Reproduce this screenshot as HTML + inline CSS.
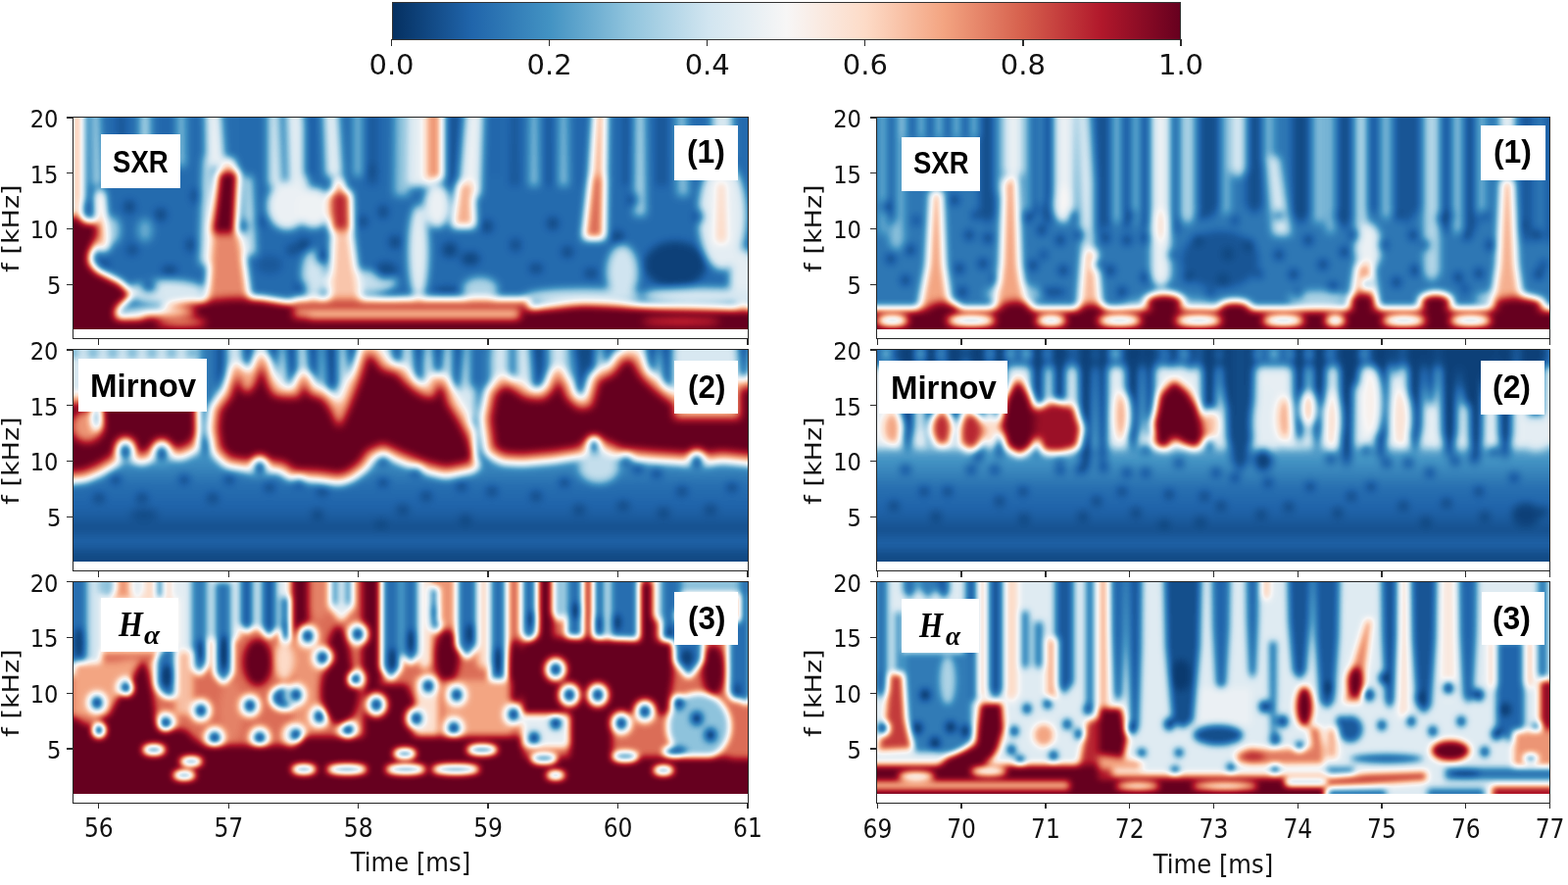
<!DOCTYPE html><html><head><meta charset="utf-8"><style>
html,body{margin:0;padding:0;background:#fff;}
body{width:1600px;height:903px;position:relative;overflow:hidden;font-family:"DejaVu Sans","Liberation Sans",sans-serif;color:#111;}
.fld{position:absolute;display:block;}
.ax{position:absolute;border:1.6px solid #262626;box-sizing:border-box;}
.tk{position:absolute;background:#2b2b2b;}
.yl{position:absolute;font-size:25.2px;line-height:1;text-align:right;width:60px;font-stretch:condensed;}
.xl{position:absolute;font-size:26px;line-height:1;text-align:center;width:60px;font-stretch:condensed;}
.cl{position:absolute;font-size:29px;line-height:1;text-align:center;width:80px;}
.lab{position:absolute;font-size:26px;line-height:1;font-stretch:condensed;white-space:nowrap;}
.box{position:absolute;background:#fff;}
.bt{position:absolute;font-family:"Liberation Sans",sans-serif;font-weight:bold;line-height:1;white-space:nowrap;color:#000;}
</style></head><body>
<div style="position:absolute;left:399.5px;top:1.5px;width:805.5px;height:39.5px;background:linear-gradient(to right,#053061 0%,#2065ab 10%,#4393c3 20%,#90c4dd 30%,#d1e5f0 40%,#f7f6f6 50%,#fddbc7 60%,#f3a481 70%,#d6604d 80%,#b1182b 90%,#67001f 100%);box-sizing:border-box;border:1.3px solid #333;"></div>
<div class="tk" style="left:398.8px;top:40px;width:1.4px;height:7px"></div>
<div class="cl" style="left:359.5px;top:51.7px">0.0</div>
<div class="tk" style="left:559.9px;top:40px;width:1.4px;height:7px"></div>
<div class="cl" style="left:520.6px;top:51.7px">0.2</div>
<div class="tk" style="left:721.0px;top:40px;width:1.4px;height:7px"></div>
<div class="cl" style="left:681.7px;top:51.7px">0.4</div>
<div class="tk" style="left:882.1px;top:40px;width:1.4px;height:7px"></div>
<div class="cl" style="left:842.8px;top:51.7px">0.6</div>
<div class="tk" style="left:1043.2px;top:40px;width:1.4px;height:7px"></div>
<div class="cl" style="left:1003.9px;top:51.7px">0.8</div>
<div class="tk" style="left:1204.3px;top:40px;width:1.4px;height:7px"></div>
<div class="cl" style="left:1165.0px;top:51.7px">1.0</div>
<svg class="fld" style="left:75px;top:120.0px" width="688" height="216.25" viewBox="0 0 688 216.25">
<defs><filter id="fL1" filterUnits="userSpaceOnUse" x="-40" y="-40" width="768" height="296.25" color-interpolation-filters="sRGB"><feGaussianBlur stdDeviation="4.5"/><feComponentTransfer><feFuncR type="table" tableValues="0.0196 0.1255 0.2627 0.5647 0.8196 0.9686 0.9922 0.9529 0.8392 0.6941 0.4039"/><feFuncG type="table" tableValues="0.1882 0.3961 0.5765 0.7686 0.8980 0.9647 0.8588 0.6431 0.3765 0.0941 0.0000"/><feFuncB type="table" tableValues="0.3804 0.6706 0.7647 0.8667 0.9412 0.9647 0.7804 0.5059 0.3020 0.1686 0.1216"/></feComponentTransfer></filter>
</defs>
<g filter="url(#fL1)"><rect x="-40" y="-40" width="768" height="296.25" fill="#1d1d1d"/>
<polygon points="-2.0,-20 8.0,-20 8.0,100 -2.0,100" fill="#b8b8b8" />
<polygon points="7.0,-20 11.0,-20 11.0,95 7.0,95" fill="#808080" />
<polygon points="18.0,-20 26.0,-20 29.0,70 19.0,70" fill="#595959" />
<polygon points="68.0,-20 78.0,-20 79.0,60 67.0,60" fill="#595959" />
<polygon points="45.0,-20 51.0,-20 54.0,50 46.0,50" fill="#0f0f0f" />
<polygon points="106.5,-20 113.5,-20 114.0,50 106.0,50" fill="#525252" />
<polygon points="90.0,-20 100.0,-20 100.0,60 90.0,60" fill="#1a1a1a" />
<polygon points="135.0,-20 149.0,-20 154.0,50 136.0,50" fill="#787878" />
<polygon points="156.0,-20 166.0,-20 166.0,40 156.0,40" fill="#1f1f1f" />
<polygon points="199.0,-20 209.0,-20 213.0,70 199.0,70" fill="#6b6b6b" />
<polygon points="217.0,-20 233.0,-20 240.0,80 220.0,80" fill="#737373" />
<polygon points="255.0,-20 269.0,-20 274.0,60 258.0,60" fill="#737373" />
<polygon points="235.0,-20 245.0,-20 245.0,60 235.0,60" fill="#141414" />
<polygon points="286.0,-20 294.0,-20 294.0,60 286.0,60" fill="#4c4c4c" />
<polygon points="299.0,-20 311.0,-20 311.0,70 299.0,70" fill="#141414" />
<polygon points="328.0,-20 342.0,-20 343.0,80 327.0,80" fill="#4c4c4c" />
<polygon points="342.0,-20 372.0,-20 367.0,70 341.0,70" fill="#737373" />
<polygon points="380.0,-20 396.0,-20 396.0,70 380.0,70" fill="#121212" />
<polygon points="402.0,-20 418.0,-20 415.0,80 393.0,80" fill="#787878" />
<polygon points="425.0,-20 435.0,-20 435.0,60 425.0,60" fill="#1a1a1a" />
<polygon points="466.0,-20 474.0,-20 475.0,70 465.0,70" fill="#4c4c4c" />
<polygon points="496.0,-20 504.0,-20 505.0,70 495.0,70" fill="#4c4c4c" />
<polygon points="446.0,-20 454.0,-20 455.0,70 445.0,70" fill="#121212" />
<polygon points="481.0,-20 489.0,-20 490.0,70 480.0,70" fill="#141414" />
<polygon points="514.0,-20 524.0,-20 525.0,70 513.0,70" fill="#1a1a1a" />
<polygon points="573.0,-20 583.0,-20 584.0,100 572.0,100" fill="#595959" />
<polygon points="560.0,-20 570.0,-20 570.0,70 560.0,70" fill="#121212" />
<polygon points="594.0,-20 606.0,-20 606.0,70 594.0,70" fill="#121212" />
<polygon points="615.0,-20 625.0,-20 628.0,80 616.0,80" fill="#4c4c4c" />
<polygon points="652.0,-20 672.0,-20 672.0,40 652.0,40" fill="#6b6b6b" />
<ellipse cx="40" cy="115" rx="8" ry="14" fill="#525252" />
<ellipse cx="73" cy="115" rx="8" ry="12" fill="#404040" />
<ellipse cx="218" cy="90" rx="20" ry="24" fill="#787878" />
<ellipse cx="245" cy="92" rx="18" ry="20" fill="#7a7a7a" />
<ellipse cx="352" cy="137" rx="10" ry="48" fill="#737373" />
<polygon points="174.0,60 182.0,60 186.0,140 174.0,140" fill="#666666" />
<polygon points="133.0,40 141.0,40 141.0,150 129.0,150" fill="#6b6b6b" />
<ellipse cx="560" cy="158" rx="16" ry="28" fill="#666666" />
<ellipse cx="662" cy="100" rx="24" ry="55" fill="#737373" />
<ellipse cx="684" cy="165" rx="14" ry="30" fill="#737373" />
<ellipse cx="640" cy="182" rx="60" ry="8" fill="#6b6b6b" />
<ellipse cx="520" cy="183" rx="60" ry="8" fill="#666666" />
<ellipse cx="95" cy="178" rx="40" ry="12" fill="#6b6b6b" />
<ellipse cx="290" cy="168" rx="40" ry="12" fill="#616161" />
<ellipse cx="245" cy="160" rx="12" ry="25" fill="#666666" />
<ellipse cx="415" cy="175" rx="18" ry="12" fill="#595959" />
<ellipse cx="13" cy="91" rx="4" ry="7" fill="#080808" />
<ellipse cx="57" cy="91" rx="6" ry="7" fill="#0a0a0a" />
<ellipse cx="89" cy="99" rx="6" ry="7" fill="#0a0a0a" />
<ellipse cx="125" cy="80" rx="5" ry="8" fill="#0d0d0d" />
<ellipse cx="120" cy="130" rx="6" ry="7" fill="#0d0d0d" />
<ellipse cx="60" cy="135" rx="6" ry="6" fill="#0d0d0d" />
<ellipse cx="31" cy="150" rx="6" ry="5" fill="#0d0d0d" />
<ellipse cx="98" cy="156" rx="8" ry="5" fill="#0a0a0a" />
<ellipse cx="77" cy="173" rx="8" ry="5" fill="#0d0d0d" />
<ellipse cx="173" cy="111" rx="5" ry="7" fill="#0f0f0f" />
<ellipse cx="192" cy="106" rx="5" ry="6" fill="#0f0f0f" />
<ellipse cx="223" cy="135" rx="6" ry="6" fill="#0d0d0d" />
<ellipse cx="200" cy="150" rx="14" ry="10" fill="#141414" />
<ellipse cx="235" cy="130" rx="7" ry="7" fill="#0a0a0a" />
<ellipse cx="254" cy="142" rx="7" ry="7" fill="#0a0a0a" />
<ellipse cx="232" cy="173" rx="6" ry="5" fill="#0d0d0d" />
<ellipse cx="295" cy="106" rx="5" ry="6" fill="#0a0a0a" />
<ellipse cx="316" cy="96" rx="5" ry="7" fill="#0a0a0a" />
<ellipse cx="328" cy="127" rx="6" ry="7" fill="#0a0a0a" />
<ellipse cx="319" cy="156" rx="12" ry="9" fill="#0d0d0d" />
<ellipse cx="321" cy="183" rx="12" ry="4" fill="#0d0d0d" />
<ellipse cx="304" cy="55" rx="5" ry="8" fill="#0d0d0d" />
<ellipse cx="384" cy="135" rx="8" ry="8" fill="#0a0a0a" />
<ellipse cx="405" cy="144" rx="10" ry="7" fill="#0a0a0a" />
<ellipse cx="381" cy="177" rx="14" ry="4" fill="#0a0a0a" />
<ellipse cx="422" cy="111" rx="6" ry="7" fill="#0a0a0a" />
<ellipse cx="451" cy="130" rx="6" ry="7" fill="#0d0d0d" />
<ellipse cx="489" cy="108" rx="6" ry="7" fill="#0a0a0a" />
<ellipse cx="504" cy="137" rx="6" ry="6" fill="#0a0a0a" />
<ellipse cx="472" cy="154" rx="7" ry="5" fill="#0a0a0a" />
<ellipse cx="528" cy="159" rx="7" ry="5" fill="#0a0a0a" />
<ellipse cx="571" cy="84" rx="5" ry="7" fill="#0a0a0a" />
<ellipse cx="638" cy="101" rx="5" ry="7" fill="#0d0d0d" />
<ellipse cx="555" cy="122" rx="7" ry="7" fill="#0a0a0a" />
<ellipse cx="614" cy="150" rx="32" ry="24" fill="#080808" />
<polygon points="23.0,75 31.0,75 36.0,135 24.0,135" fill="#a8a8a8" />
<polygon points="155.0,42 163.0,42 168.0,58 148.0,58" fill="#9e9e9e" />
<polygon points="147.0,55 169.0,55 166.0,118 140.0,118" fill="#ffffff" />
<polygon points="141.0,118 171.0,118 181.0,192 135.0,192" fill="#bdbdbd" />
<polygon points="266.0,62 274.0,62 279.0,80 265.0,80" fill="#b2b2b2" />
<polygon points="261.0,76 283.0,76 284.0,115 262.0,115" fill="#e0e0e0" />
<polygon points="264.0,115 284.0,115 294.0,192 260.0,192" fill="#a3a3a3" />
<polygon points="359.0,-20 377.0,-20 377.0,64 359.0,64" fill="#b8b8b8" />
<ellipse cx="371" cy="90" rx="13" ry="22" fill="#787878" />
<polygon points="392.0,66 408.0,66 410.0,112 386.0,112" fill="#adadad" />
<polygon points="532.0,-20 544.0,-20 543.0,60 527.0,60" fill="#adadad" />
<polygon points="527.0,60 543.0,60 542.0,124 520.0,124" fill="#c7c7c7" />
<polygon points="657.0,66 665.0,66 667.0,128 655.0,128" fill="#9e9e9e" />
<polygon points="-20,100 6,100 12,106 24,106 25,120 21,132 17,140 17,148 24,156 36,162 48,168 56,176 58,184 50,190 44,196 44,205 -20,230" fill="#ffffff" />
<polygon points="66,206 82,197 96,191 130,187 160,184 190,184 215,188 240,190 240,220 66,220" fill="#ffffff" />
<rect x="225" y="185" width="240" height="13" fill="#d6d6d6" />
<rect x="225" y="198" width="240" height="5" fill="#949494" />
<polygon points="455,196 480,193 520,190 560,191 600,193 700,195 700,230 455,230" fill="#ffffff" />
<rect x="-20" y="204" width="740" height="30" fill="#ffffff" />
<ellipse cx="85" cy="198" rx="40" ry="4" fill="#737373" />
<ellipse cx="110" cy="209" rx="25" ry="2.5" fill="#8c8c8c" />
<ellipse cx="620" cy="208" rx="40" ry="2" fill="#b2b2b2" />
</g></svg>
<div class="ax" style="left:74.3px;top:119.3px;width:689.4px;height:227.0px"></div>
<div class="tk" style="left:68.0px;top:119.3px;width:7px;height:1.4px"></div>
<div class="yl" style="left:-0.5px;top:108.7px">20</div>
<div class="tk" style="left:68.0px;top:176.1px;width:7px;height:1.4px"></div>
<div class="yl" style="left:-0.5px;top:165.5px">15</div>
<div class="tk" style="left:68.0px;top:232.9px;width:7px;height:1.4px"></div>
<div class="yl" style="left:-0.5px;top:222.3px">10</div>
<div class="tk" style="left:68.0px;top:289.7px;width:7px;height:1.4px"></div>
<div class="yl" style="left:2.5px;top:279.1px">5</div>
<div class="tk" style="left:100.1px;top:345.6px;width:1.4px;height:6px"></div>
<div class="tk" style="left:232.6px;top:345.6px;width:1.4px;height:6px"></div>
<div class="tk" style="left:365.0px;top:345.6px;width:1.4px;height:6px"></div>
<div class="tk" style="left:497.4px;top:345.6px;width:1.4px;height:6px"></div>
<div class="tk" style="left:629.9px;top:345.6px;width:1.4px;height:6px"></div>
<div class="tk" style="left:762.3px;top:345.6px;width:1.4px;height:6px"></div>
<div class="lab" style="left:-48.3px;top:217.8px;width:120px;height:30px;text-align:center;transform:rotate(-90deg) scaleY(0.86);font-stretch:normal;font-size:27px">f [kHz]</div>
<svg class="fld" style="left:75px;top:357.0px" width="688" height="216.25" viewBox="0 0 688 216.25">
<defs><filter id="fL2" filterUnits="userSpaceOnUse" x="-40" y="-40" width="768" height="296.25" color-interpolation-filters="sRGB"><feGaussianBlur stdDeviation="4.5"/><feComponentTransfer><feFuncR type="table" tableValues="0.0196 0.1255 0.2627 0.5647 0.8196 0.9686 0.9922 0.9529 0.8392 0.6941 0.4039"/><feFuncG type="table" tableValues="0.1882 0.3961 0.5765 0.7686 0.8980 0.9647 0.8588 0.6431 0.3765 0.0941 0.0000"/><feFuncB type="table" tableValues="0.3804 0.6706 0.7647 0.8667 0.9412 0.9647 0.7804 0.5059 0.3020 0.1686 0.1216"/></feComponentTransfer></filter>
<linearGradient id="g0" x1="0" y1="0" x2="0" y2="1"><stop offset="0" stop-color="#3d3d3d"/><stop offset="0.15" stop-color="#2e2e2e"/><stop offset="0.3" stop-color="#1f1f1f"/><stop offset="0.5" stop-color="#171717"/><stop offset="0.6" stop-color="#0f0f0f"/><stop offset="0.7" stop-color="#1a1a1a"/><stop offset="0.78" stop-color="#0d0d0d"/><stop offset="1" stop-color="#0a0a0a"/></linearGradient>
</defs>
<g filter="url(#fL2)"><rect x="-40" y="-40" width="768" height="296.25" fill="#212121"/>
<rect x="-20" y="-20" width="740" height="90" fill="#6b6b6b" />
<rect x="-20" y="95" width="740" height="145" fill="url(#g0)"/>
<polygon points="138,-20 145,-20 145,40.8 141.5,45 138,40.8" fill="#6b6b6b" />
<polygon points="160,-20 167,-20 167,40.8 163.5,45 160,40.8" fill="#6b6b6b" />
<polygon points="186,-20 193,-20 193,40.8 189.5,45 186,40.8" fill="#6b6b6b" />
<polygon points="212,-20 219,-20 219,40.8 215.5,45 212,40.8" fill="#6b6b6b" />
<polygon points="150,-20 157,-20 157,40.8 153.5,45 150,40.8" fill="#121212" />
<polygon points="176,-20 183,-20 183,40.8 179.5,45 176,40.8" fill="#121212" />
<polygon points="200,-20 207,-20 207,40.8 203.5,45 200,40.8" fill="#121212" />
<polygon points="222,-20 229,-20 229,40.8 225.5,45 222,40.8" fill="#121212" />
<polygon points="236,-20 243,-20 243,35.8 239.5,40 236,35.8" fill="#666666" />
<polygon points="252,-20 259,-20 259,35.8 255.5,40 252,35.8" fill="#666666" />
<polygon points="286,-20 293,-20 293,35.8 289.5,40 286,35.8" fill="#666666" />
<polygon points="318,-20 325,-20 325,35.8 321.5,40 318,35.8" fill="#666666" />
<polygon points="338,-20 345,-20 345,35.8 341.5,40 338,35.8" fill="#666666" />
<polygon points="360,-20 367,-20 367,35.8 363.5,40 360,35.8" fill="#666666" />
<polygon points="376,-20 383,-20 383,35.8 379.5,40 376,35.8" fill="#666666" />
<polygon points="394,-20 401,-20 401,35.8 397.5,40 394,35.8" fill="#666666" />
<polygon points="412,-20 419,-20 419,35.8 415.5,40 412,35.8" fill="#666666" />
<polygon points="244,-20 251,-20 251,35.8 247.5,40 244,35.8" fill="#141414" />
<polygon points="264,-20 271,-20 271,35.8 267.5,40 264,35.8" fill="#141414" />
<polygon points="328,-20 335,-20 335,35.8 331.5,40 328,35.8" fill="#141414" />
<polygon points="350,-20 357,-20 357,35.8 353.5,40 350,35.8" fill="#141414" />
<polygon points="368,-20 375,-20 375,35.8 371.5,40 368,35.8" fill="#141414" />
<polygon points="386,-20 393,-20 393,35.8 389.5,40 386,35.8" fill="#141414" />
<polygon points="404,-20 411,-20 411,35.8 407.5,40 404,35.8" fill="#141414" />
<polygon points="420,-20 427,-20 427,35.8 423.5,40 420,35.8" fill="#141414" />
<polygon points="426,-20 436,-20 436,44.0 431.0,50 426,44.0" fill="#666666" />
<polygon points="444,-20 452,-20 452,35.2 448.0,40 444,35.2" fill="#1a1a1a" />
<polygon points="458,-20 468,-20 468,39.0 463.0,45 458,39.0" fill="#6b6b6b" />
<polygon points="472,-20 486,-20 486,51.6 479.0,60 472,51.6" fill="#1a1a1a" />
<polygon points="490,-20 498,-20 498,35.2 494.0,40 490,35.2" fill="#666666" />
<polygon points="504,-20 528,-20 528,55.6 516.0,70 504,55.6" fill="#1f1f1f" />
<polygon points="508,-20 516,-20 516,45.2 512.0,50 508,45.2" fill="#6b6b6b" />
<polygon points="540,-20 548,-20 548,25.2 544.0,30 540,25.2" fill="#666666" />
<polygon points="552,-20 560,-20 560,25.2 556.0,30 552,25.2" fill="#141414" />
<polygon points="590,-20 600,-20 600,39.0 595.0,45 590,39.0" fill="#6b6b6b" />
<polygon points="603,-20 611,-20 611,45.2 607.0,50 603,45.2" fill="#1a1a1a" />
<polygon points="680,-20 688,-20 688,30.2 684.0,35 680,30.2" fill="#666666" />
<ellipse cx="0" cy="3" rx="4" ry="4" fill="#141414" />
<ellipse cx="10" cy="3" rx="4" ry="4" fill="#666666" />
<ellipse cx="20" cy="3" rx="4" ry="4" fill="#141414" />
<ellipse cx="30" cy="3" rx="4" ry="4" fill="#666666" />
<ellipse cx="40" cy="3" rx="4" ry="4" fill="#141414" />
<ellipse cx="50" cy="3" rx="4" ry="4" fill="#666666" />
<ellipse cx="60" cy="3" rx="4" ry="4" fill="#141414" />
<ellipse cx="70" cy="3" rx="4" ry="4" fill="#666666" />
<ellipse cx="80" cy="3" rx="4" ry="4" fill="#141414" />
<ellipse cx="90" cy="3" rx="4" ry="4" fill="#666666" />
<ellipse cx="100" cy="3" rx="4" ry="4" fill="#141414" />
<ellipse cx="110" cy="3" rx="4" ry="4" fill="#666666" />
<ellipse cx="120" cy="3" rx="4" ry="4" fill="#141414" />
<ellipse cx="130" cy="3" rx="4" ry="4" fill="#666666" />
<polygon points="142,-20 158,-20 153,40 150,50 147,40" fill="#0d0d0d" />
<polygon points="170,-20 186,-20 181,35 178,45 175,35" fill="#0d0d0d" />
<polygon points="196,-20 212,-20 207,38 204,48 201,38" fill="#0d0d0d" />
<polygon points="214,-20 230,-20 225,40 222,50 219,40" fill="#0d0d0d" />
<polygon points="236,-20 252,-20 247,35 244,45 241,35" fill="#0d0d0d" />
<polygon points="254,-20 270,-20 265,70 262,80 259,70" fill="#0d0d0d" />
<polygon points="276,-20 292,-20 287,30 284,40 281,30" fill="#0d0d0d" />
<polygon points="322,-20 338,-20 333,20 330,30 327,20" fill="#0d0d0d" />
<polygon points="344,-20 360,-20 355,35 352,45 349,35" fill="#0d0d0d" />
<polygon points="364,-20 380,-20 375,30 372,40 369,30" fill="#0d0d0d" />
<polygon points="384,-20 400,-20 395,35 392,45 389,35" fill="#0d0d0d" />
<polygon points="412,-20 428,-20 423,50 420,60 417,50" fill="#0d0d0d" />
<polygon points="464,-20 480,-20 475,45 472,55 469,45" fill="#0d0d0d" />
<polygon points="508,-20 524,-20 519,52 516,62 513,52" fill="#0d0d0d" />
<polygon points="520,-20 536,-20 531,50 528,60 525,50" fill="#0d0d0d" />
<polygon points="537,-20 553,-20 548,15 545,25 542,15" fill="#0d0d0d" />
<polygon points="582,-20 598,-20 593,30 590,40 587,30" fill="#0d0d0d" />
<polygon points="597,-20 613,-20 608,40 605,50 602,40" fill="#0d0d0d" />
<polygon points="676,-20 692,-20 687,30 684,40 681,30" fill="#0d0d0d" />
<polygon points="-10,55 125,55 126,85 120,95 108,101 98,99 90,93 82,99 70,106 60,103 53,93 46,98 40,108 24,118 10,124 -10,126" fill="#b8b8b8" stroke="#b0b0b0" stroke-width="20" stroke-linejoin="round"/>
<polygon points="-10,55 125,55 126,85 120,95 108,101 98,99 90,93 82,99 70,106 60,103 53,93 46,98 40,108 24,118 10,124 -10,126" fill="#ffffff" />
<ellipse cx="14" cy="78" rx="16" ry="16" fill="#b8b8b8" />
<ellipse cx="24" cy="68" rx="4" ry="14" fill="#1a1a1a" />
<ellipse cx="53" cy="102" rx="10" ry="12" fill="#737373" />
<ellipse cx="90" cy="104" rx="10" ry="12" fill="#737373" />
<ellipse cx="53" cy="104" rx="6" ry="8" fill="#000000" />
<ellipse cx="90" cy="106" rx="6" ry="8" fill="#000000" />
<polygon points="128,-20 146,-20 146,99.2 137.0,110 128,99.2" fill="#242424" />
<ellipse cx="137" cy="96" rx="6" ry="8" fill="#050505" />
<polygon points="149,62 160,48 168,24 172,40 178,44 185,35 192,14 198,35 204,46 215,48 230,48 235,32 240,45 255,50 262,60 271,79 280,60 292,30 300,5 304,5 315,20 330,24 340,35 350,43 360,48 368,48 372,34 378,40 382,55 393,72 403,91 408,108 404,115 380,120 360,115 335,105 316,96 300,103 292,115 280,124 271,127 250,124 225,123 215,115 200,113 190,118 180,113 160,110 150,100 147,80" fill="#b8b8b8" stroke="#b0b0b0" stroke-width="20" stroke-linejoin="round"/>
<polygon points="149,62 160,48 168,24 172,40 178,44 185,35 192,14 198,35 204,46 215,48 230,48 235,32 240,45 255,50 262,60 271,79 280,60 292,30 300,5 304,5 315,20 330,24 340,35 350,43 360,48 368,48 372,34 378,40 382,55 393,72 403,91 408,108 404,115 380,120 360,115 335,105 316,96 300,103 292,115 280,124 271,127 250,124 225,123 215,115 200,113 190,118 180,113 160,110 150,100 147,80" fill="#ffffff" />
<ellipse cx="190" cy="118" rx="9" ry="10" fill="#737373" />
<ellipse cx="190" cy="120" rx="6" ry="7" fill="#000000" />
<polygon points="410,-20 426,-20 426,110.4 418.0,120 410,110.4" fill="#212121" />
<ellipse cx="427" cy="103" rx="6" ry="7" fill="#050505" />
<polygon points="429,100 425,70 430,45 440,36 452,42 460,48 470,50 480,50 490,40 494,28 498,36 504,50 516,60 528,58 532,45 536,31 550,25 562,10 570,10 578,25 583,31 595,42 605,50 613,55 613,70 680,70 680,40 700,36 700,108 662,104 648,106 636,110 624,106 593,104 560,101 540,92 531,88 524,92 515,100 490,104 458,107 440,106" fill="#b8b8b8" stroke="#b0b0b0" stroke-width="20" stroke-linejoin="round"/>
<polygon points="429,100 425,70 430,45 440,36 452,42 460,48 470,50 480,50 490,40 494,28 498,36 504,50 516,60 528,58 532,45 536,31 550,25 562,10 570,10 578,25 583,31 595,42 605,50 613,55 613,70 680,70 680,40 700,36 700,108 662,104 648,106 636,110 624,106 593,104 560,101 540,92 531,88 524,92 515,100 490,104 458,107 440,106" fill="#ffffff" />
<ellipse cx="536" cy="120" rx="20" ry="16" fill="#616161" />
<ellipse cx="531" cy="97" rx="5" ry="8" fill="#000000" />
<ellipse cx="636" cy="112" rx="9" ry="10" fill="#737373" />
<ellipse cx="636" cy="114" rx="6" ry="7" fill="#000000" />
<ellipse cx="43" cy="132" rx="6" ry="5" fill="#0a0a0a" />
<ellipse cx="113" cy="132" rx="6" ry="5" fill="#0a0a0a" />
<ellipse cx="159" cy="132" rx="6" ry="5" fill="#0a0a0a" />
<ellipse cx="26" cy="151" rx="6" ry="5" fill="#0a0a0a" />
<ellipse cx="70" cy="151" rx="6" ry="5" fill="#0a0a0a" />
<ellipse cx="142" cy="151" rx="6" ry="5" fill="#0a0a0a" />
<ellipse cx="316" cy="112" rx="6" ry="5" fill="#0a0a0a" />
<ellipse cx="350" cy="124" rx="6" ry="5" fill="#0a0a0a" />
<ellipse cx="230" cy="135" rx="6" ry="5" fill="#0a0a0a" />
<ellipse cx="254" cy="144" rx="6" ry="5" fill="#0a0a0a" />
<ellipse cx="316" cy="135" rx="6" ry="5" fill="#0a0a0a" />
<ellipse cx="360" cy="149" rx="6" ry="5" fill="#0a0a0a" />
<ellipse cx="396" cy="139" rx="6" ry="5" fill="#0a0a0a" />
<ellipse cx="427" cy="144" rx="6" ry="5" fill="#0a0a0a" />
<ellipse cx="336" cy="163" rx="6" ry="5" fill="#0a0a0a" />
<ellipse cx="249" cy="168" rx="6" ry="5" fill="#0a0a0a" />
<ellipse cx="400" cy="173" rx="6" ry="5" fill="#0a0a0a" />
<ellipse cx="314" cy="178" rx="6" ry="5" fill="#0a0a0a" />
<ellipse cx="564" cy="112" rx="6" ry="5" fill="#0a0a0a" />
<ellipse cx="576" cy="121" rx="6" ry="5" fill="#0a0a0a" />
<ellipse cx="595" cy="126" rx="6" ry="5" fill="#0a0a0a" />
<ellipse cx="621" cy="144" rx="6" ry="5" fill="#0a0a0a" />
<ellipse cx="501" cy="135" rx="6" ry="5" fill="#0a0a0a" />
<ellipse cx="472" cy="149" rx="6" ry="5" fill="#0a0a0a" />
<ellipse cx="561" cy="159" rx="6" ry="5" fill="#0a0a0a" />
<ellipse cx="516" cy="163" rx="6" ry="5" fill="#0a0a0a" />
<ellipse cx="602" cy="166" rx="6" ry="5" fill="#0a0a0a" />
<ellipse cx="650" cy="163" rx="6" ry="5" fill="#0a0a0a" />
<ellipse cx="200" cy="140" rx="6" ry="5" fill="#0a0a0a" />
<ellipse cx="672" cy="140" rx="6" ry="5" fill="#0a0a0a" />
<ellipse cx="72" cy="168" rx="14" ry="6" fill="#0d0d0d" />
</g></svg>
<div class="ax" style="left:74.3px;top:356.3px;width:689.4px;height:227.0px"></div>
<div class="tk" style="left:68.0px;top:356.3px;width:7px;height:1.4px"></div>
<div class="yl" style="left:-0.5px;top:345.7px">20</div>
<div class="tk" style="left:68.0px;top:413.1px;width:7px;height:1.4px"></div>
<div class="yl" style="left:-0.5px;top:402.5px">15</div>
<div class="tk" style="left:68.0px;top:469.9px;width:7px;height:1.4px"></div>
<div class="yl" style="left:-0.5px;top:459.3px">10</div>
<div class="tk" style="left:68.0px;top:526.7px;width:7px;height:1.4px"></div>
<div class="yl" style="left:2.5px;top:516.1px">5</div>
<div class="tk" style="left:100.1px;top:582.6px;width:1.4px;height:6px"></div>
<div class="tk" style="left:232.6px;top:582.6px;width:1.4px;height:6px"></div>
<div class="tk" style="left:365.0px;top:582.6px;width:1.4px;height:6px"></div>
<div class="tk" style="left:497.4px;top:582.6px;width:1.4px;height:6px"></div>
<div class="tk" style="left:629.9px;top:582.6px;width:1.4px;height:6px"></div>
<div class="tk" style="left:762.3px;top:582.6px;width:1.4px;height:6px"></div>
<div class="lab" style="left:-48.3px;top:454.8px;width:120px;height:30px;text-align:center;transform:rotate(-90deg) scaleY(0.86);font-stretch:normal;font-size:27px">f [kHz]</div>
<svg class="fld" style="left:75px;top:593.75px" width="688" height="216.25" viewBox="0 0 688 216.25">
<defs><filter id="fL3" filterUnits="userSpaceOnUse" x="-40" y="-40" width="768" height="296.25" color-interpolation-filters="sRGB"><feGaussianBlur stdDeviation="3.8"/><feComponentTransfer><feFuncR type="table" tableValues="0.0196 0.1255 0.2627 0.5647 0.8196 0.9686 0.9922 0.9529 0.8392 0.6941 0.4039"/><feFuncG type="table" tableValues="0.1882 0.3961 0.5765 0.7686 0.8980 0.9647 0.8588 0.6431 0.3765 0.0941 0.0000"/><feFuncB type="table" tableValues="0.3804 0.6706 0.7647 0.8667 0.9412 0.9647 0.7804 0.5059 0.3020 0.1686 0.1216"/></feComponentTransfer></filter>
</defs>
<g filter="url(#fL3)"><rect x="-40" y="-40" width="768" height="296.25" fill="#c7c7c7"/>
<rect x="100" y="-20" width="125" height="65" fill="#737373" />
<rect x="-10" y="-20" width="38" height="115" fill="#666666" />
<polygon points="-10,-20 14,-20 14,77.6 2.0,92 -10,77.6" fill="#1f1f1f" />
<ellipse cx="6" cy="62" rx="6" ry="16" fill="#080808" />
<polygon points="26,-20 43,-20 43,9.8 34.5,20 26,9.8" fill="#4c4c4c" />
<polygon points="43,-20 58,-20 58,31.0 50.5,40 43,31.0" fill="#b8b8b8" />
<polygon points="58,-20 72,-20 72,11.6 65.0,20 58,11.6" fill="#737373" />
<polygon points="72,-20 82,-20 82,14.0 77.0,20 72,14.0" fill="#999999" />
<polygon points="84,-20 91,-20 91,15.8 87.5,20 84,15.8" fill="#1a1a1a" />
<polygon points="91,-20 100,-20 100,14.600000000000001 95.5,20 91,14.600000000000001" fill="#999999" />
<rect x="28" y="16" width="79" height="55" fill="#8c8c8c" />
<rect x="107" y="-20" width="15" height="90" fill="#737373" />
<polygon points="120,-20 137,-20 137,84.8 128.5,95 120,84.8" fill="#262626" />
<ellipse cx="130" cy="70" rx="5" ry="12" fill="#080808" />
<polygon points="137,-20 144,-20 144,55.8 140.5,60 137,55.8" fill="#737373" />
<polygon points="144,0 162,0 162,93.2 153.0,104 144,93.2" fill="#212121" />
<ellipse cx="154" cy="72" rx="6" ry="18" fill="#050505" />
<polygon points="161,-20 170,-20 170,54.6 165.5,60 161,54.6" fill="#737373" />
<polygon points="170,-20 184,-20 184,43.6 177.0,52 170,43.6" fill="#141414" />
<polygon points="183,-20 192,-20 192,44.6 187.5,50 183,44.6" fill="#6b6b6b" />
<polygon points="192,-20 207,-20 207,48.0 199.5,57 192,48.0" fill="#141414" />
<polygon points="207,-20 212,-20 212,47.0 209.5,50 207,47.0" fill="#737373" />
<polygon points="212,15 221,15 221,58.6 216.5,64 212,58.6" fill="#141414" />
<ellipse cx="216" cy="48" rx="4" ry="8" fill="#050505" />
<polygon points="221,-20 232,-20 232,53.4 226.5,60 221,53.4" fill="#f2f2f2" />
<ellipse cx="98" cy="92" rx="16" ry="26" fill="#1f1f1f" />
<ellipse cx="96" cy="96" rx="7" ry="12" fill="#050505" />
<ellipse cx="60" cy="90" rx="20" ry="12" fill="#b8b8b8" />
<rect x="0" y="82" width="84" height="54" fill="#b2b2b2" />
<rect x="104" y="70" width="18" height="65" fill="#a6a6a6" />
<ellipse cx="188" cy="82" rx="15" ry="24" fill="#ffffff" />
<ellipse cx="161" cy="132" rx="12" ry="32" fill="#bfbfbf" />
<ellipse cx="216" cy="118" rx="15" ry="12" fill="#141414" />
<ellipse cx="215" cy="80" rx="10" ry="20" fill="#999999" />
<ellipse cx="24" cy="123" rx="11" ry="12" fill="#808080" />
<ellipse cx="54" cy="108" rx="11" ry="12" fill="#808080" />
<ellipse cx="26" cy="151" rx="11" ry="12" fill="#808080" />
<ellipse cx="94" cy="144" rx="11" ry="12" fill="#808080" />
<ellipse cx="130" cy="131" rx="11" ry="12" fill="#808080" />
<ellipse cx="144" cy="159" rx="11" ry="12" fill="#808080" />
<ellipse cx="180" cy="126" rx="11" ry="12" fill="#808080" />
<ellipse cx="190" cy="159" rx="11" ry="12" fill="#808080" />
<ellipse cx="224" cy="156" rx="11" ry="12" fill="#808080" />
<polygon points="-10,137 0,137 14,146 36,135 41,125 48,113 58,101 65,87 72,79 77,91 82,115 84,135 87,149 106,149 115,151 125,161 135,166 240,166 240,240 -10,240" fill="#ffffff" />
<ellipse cx="24" cy="123" rx="6" ry="7" fill="#000000" />
<ellipse cx="54" cy="108" rx="6" ry="7" fill="#000000" />
<ellipse cx="26" cy="151" rx="6" ry="7" fill="#000000" />
<ellipse cx="94" cy="144" rx="6" ry="7" fill="#000000" />
<ellipse cx="130" cy="131" rx="6" ry="7" fill="#000000" />
<ellipse cx="144" cy="159" rx="6" ry="7" fill="#000000" />
<ellipse cx="180" cy="126" rx="6" ry="7" fill="#000000" />
<ellipse cx="190" cy="159" rx="6" ry="7" fill="#000000" />
<ellipse cx="224" cy="156" rx="6" ry="7" fill="#000000" />
<ellipse cx="82" cy="171" rx="11" ry="4.5" fill="#1f1f1f" />
<ellipse cx="120" cy="183" rx="11" ry="4.0" fill="#1f1f1f" />
<ellipse cx="113" cy="197" rx="11" ry="4.0" fill="#1f1f1f" />
<polygon points="225,-20 240,-20 240,51.0 232.5,60 225,51.0" fill="#ffffff" />
<polygon points="240,-20 261,-20 261,27.4 250.5,40 240,27.4" fill="#bfbfbf" />
<polygon points="261,-20 286,-20 286,25.0 273.5,40 261,25.0" fill="#737373" />
<polygon points="264,-20 269,-20 269,22.0 266.5,25 264,22.0" fill="#141414" />
<polygon points="278,-20 283,-20 283,22.0 280.5,25 278,22.0" fill="#141414" />
<ellipse cx="270" cy="95" rx="14" ry="50" fill="#ffffff" />
<polygon points="294,-20 315,-20 315,99.4 304.5,112 294,99.4" fill="#ffffff" />
<polygon points="314,-20 334,-20 334,88.0 324.0,100 314,88.0" fill="#1f1f1f" />
<ellipse cx="326" cy="79" rx="5" ry="12" fill="#050505" />
<polygon points="335,-20 353,-20 353,73.2 344.0,84 335,73.2" fill="#1f1f1f" />
<ellipse cx="345" cy="60" rx="5" ry="12" fill="#050505" />
<polygon points="352,-20 365,-20 365,82.2 358.5,90 352,82.2" fill="#8c8c8c" />
<polygon points="364,5 375,5 375,45.4 369.5,52 364,45.4" fill="#1f1f1f" />
<ellipse cx="368" cy="31" rx="4" ry="8" fill="#080808" />
<polygon points="372,-20 390,-20 390,39.2 381.0,50 372,39.2" fill="#b8b8b8" />
<ellipse cx="381" cy="76" rx="13" ry="28" fill="#ffffff" />
<polygon points="391,-20 412,-20 412,65.4 401.5,78 391,65.4" fill="#1f1f1f" />
<ellipse cx="405" cy="53" rx="5" ry="11" fill="#050505" />
<polygon points="412,-20 425,-20 425,82.2 418.5,90 412,82.2" fill="#999999" />
<polygon points="425,-20 442,-20 442,113.8 433.5,124 425,113.8" fill="#1f1f1f" />
<ellipse cx="433" cy="80" rx="5" ry="14" fill="#050505" />
<ellipse cx="451" cy="92" rx="9" ry="34" fill="#ffffff" />
<polygon points="296,104 340,104 350,125 345,168 296,168" fill="#ffffff" />
<rect x="225" y="60" width="25" height="92" fill="#b8b8b8" />
<rect x="350" y="98" width="22" height="58" fill="#949494" />
<rect x="378" y="100" width="68" height="60" fill="#b2b2b2" />
<ellipse cx="239" cy="55" rx="11" ry="12" fill="#808080" />
<ellipse cx="254" cy="77" rx="11" ry="12" fill="#808080" />
<ellipse cx="290" cy="53" rx="11" ry="12" fill="#808080" />
<ellipse cx="287" cy="99" rx="11" ry="12" fill="#808080" />
<ellipse cx="309" cy="125" rx="11" ry="12" fill="#808080" />
<ellipse cx="227" cy="115" rx="11" ry="12" fill="#808080" />
<ellipse cx="251" cy="137" rx="11" ry="12" fill="#808080" />
<ellipse cx="227" cy="156" rx="11" ry="12" fill="#808080" />
<ellipse cx="280" cy="151" rx="11" ry="12" fill="#808080" />
<ellipse cx="362" cy="106" rx="11" ry="12" fill="#808080" />
<ellipse cx="350" cy="139" rx="11" ry="12" fill="#808080" />
<ellipse cx="391" cy="115" rx="11" ry="12" fill="#808080" />
<ellipse cx="388" cy="149" rx="11" ry="12" fill="#808080" />
<ellipse cx="449" cy="135" rx="11" ry="12" fill="#808080" />
<ellipse cx="272" cy="112" rx="20" ry="34" fill="#ffffff" />
<rect x="225" y="157" width="235" height="83" fill="#ffffff" />
<ellipse cx="239" cy="55" rx="6" ry="7" fill="#000000" />
<ellipse cx="254" cy="77" rx="6" ry="7" fill="#000000" />
<ellipse cx="290" cy="53" rx="6" ry="7" fill="#000000" />
<ellipse cx="287" cy="99" rx="6" ry="7" fill="#000000" />
<ellipse cx="309" cy="125" rx="6" ry="7" fill="#000000" />
<ellipse cx="227" cy="115" rx="6" ry="7" fill="#000000" />
<ellipse cx="251" cy="137" rx="6" ry="7" fill="#000000" />
<ellipse cx="227" cy="156" rx="6" ry="7" fill="#000000" />
<ellipse cx="280" cy="151" rx="6" ry="7" fill="#000000" />
<ellipse cx="362" cy="106" rx="6" ry="7" fill="#000000" />
<ellipse cx="350" cy="139" rx="6" ry="7" fill="#000000" />
<ellipse cx="391" cy="115" rx="6" ry="7" fill="#000000" />
<ellipse cx="388" cy="149" rx="6" ry="7" fill="#000000" />
<ellipse cx="449" cy="135" rx="6" ry="7" fill="#000000" />
<ellipse cx="338" cy="175" rx="11" ry="4.5" fill="#1f1f1f" />
<ellipse cx="417" cy="171" rx="15" ry="4.5" fill="#1f1f1f" />
<ellipse cx="235" cy="191" rx="12" ry="4.0" fill="#1f1f1f" />
<ellipse cx="279" cy="191" rx="20" ry="4.0" fill="#1f1f1f" />
<ellipse cx="339" cy="191" rx="20" ry="4.0" fill="#1f1f1f" />
<ellipse cx="390" cy="191" rx="24" ry="4.0" fill="#1f1f1f" />
<polygon points="457,-20 473,-20 473,52.4 465.0,62 457,52.4" fill="#1f1f1f" />
<ellipse cx="468" cy="38" rx="5" ry="9" fill="#050505" />
<polygon points="474,-20 490,-20 490,60.4 482.0,70 474,60.4" fill="#ffffff" />
<polygon points="489,-20 502,-20 502,32.2 495.5,40 489,32.2" fill="#4c4c4c" />
<polygon points="503,-20 521,-20 521,55.2 512.0,66 503,55.2" fill="#1f1f1f" />
<ellipse cx="513" cy="29" rx="5" ry="9" fill="#050505" />
<polygon points="520,-20 531,-20 531,63.4 525.5,70 520,63.4" fill="#ebebeb" />
<polygon points="530,-20 546,-20 546,68.4 538.0,78 530,68.4" fill="#1f1f1f" />
<ellipse cx="535" cy="43" rx="5" ry="9" fill="#050505" />
<polygon points="542,-20 549,-20 549,55.8 545.5,60 542,55.8" fill="#737373" />
<polygon points="548,-20 577,-20 577,74.6 562.5,92 548,74.6" fill="#1f1f1f" />
<ellipse cx="554" cy="41" rx="5" ry="9" fill="#050505" />
<ellipse cx="569" cy="67" rx="5" ry="9" fill="#050505" />
<polygon points="577,0 594,0 594,59.8 585.5,70 577,59.8" fill="#ffffff" />
<polygon points="592,-20 600,-20 600,35.2 596.0,40 592,35.2" fill="#666666" />
<polygon points="600,-20 615,-20 615,65.0 607.5,74 600,65.0" fill="#1f1f1f" />
<ellipse cx="607" cy="53" rx="4" ry="8" fill="#050505" />
<polygon points="613,40 642,40 642,80.6 627.5,98 613,80.6" fill="#1f1f1f" />
<ellipse cx="626" cy="77" rx="6" ry="9" fill="#050505" />
<ellipse cx="653" cy="90" rx="12" ry="26" fill="#ffffff" />
<polygon points="668,40 692,40 692,113.6 680.0,128 668,113.6" fill="#1f1f1f" />
<ellipse cx="679" cy="111" rx="5" ry="8" fill="#050505" />
<polygon points="458,62 475,55 612,60 612,98 606,135 458,135" fill="#ffffff" />
<rect x="458" y="135" width="48" height="33" fill="#737373" />
<ellipse cx="638" cy="147" rx="32" ry="34" fill="#4c4c4c" />
<rect x="506" y="125" width="44" height="115" fill="#ffffff" />
<rect x="458" y="178" width="242" height="62" fill="#ffffff" />
<rect x="670" y="120" width="30" height="60" fill="#c7c7c7" />
<ellipse cx="492" cy="89" rx="11" ry="12" fill="#808080" />
<ellipse cx="506" cy="115" rx="11" ry="12" fill="#808080" />
<ellipse cx="535" cy="115" rx="11" ry="12" fill="#808080" />
<ellipse cx="583" cy="132" rx="11" ry="12" fill="#808080" />
<ellipse cx="559" cy="144" rx="11" ry="12" fill="#808080" />
<ellipse cx="492" cy="89" rx="6" ry="7" fill="#000000" />
<ellipse cx="506" cy="115" rx="6" ry="7" fill="#000000" />
<ellipse cx="535" cy="115" rx="6" ry="7" fill="#000000" />
<ellipse cx="583" cy="132" rx="6" ry="7" fill="#000000" />
<ellipse cx="559" cy="144" rx="6" ry="7" fill="#000000" />
<ellipse cx="470" cy="159" rx="6" ry="7" fill="#000000" />
<ellipse cx="492" cy="144" rx="6" ry="7" fill="#000000" />
<ellipse cx="617" cy="123" rx="6" ry="7" fill="#000000" />
<ellipse cx="636" cy="139" rx="6" ry="7" fill="#000000" />
<ellipse cx="650" cy="156" rx="6" ry="7" fill="#000000" />
<ellipse cx="614" cy="173" rx="12" ry="5" fill="#080808" />
<ellipse cx="480" cy="180" rx="13" ry="4.5" fill="#1f1f1f" />
<ellipse cx="563" cy="178" rx="13" ry="4.5" fill="#1f1f1f" />
<ellipse cx="602" cy="192" rx="10" ry="4.0" fill="#1f1f1f" />
<ellipse cx="492" cy="197" rx="9" ry="3.5" fill="#1f1f1f" />
<rect x="612" y="-20" width="88" height="32" fill="#4c4c4c" />
<polygon points="680,-20 692,-20 692,117.8 686.0,125 680,117.8" fill="#1f1f1f" />
<polygon points="612,-20 620,-20 620,25.2 616.0,30 612,25.2" fill="#1f1f1f" />
</g></svg>
<div class="ax" style="left:74.3px;top:593.0px;width:689.4px;height:227.0px"></div>
<div class="tk" style="left:68.0px;top:593.0px;width:7px;height:1.4px"></div>
<div class="yl" style="left:-0.5px;top:582.5px">20</div>
<div class="tk" style="left:68.0px;top:649.8px;width:7px;height:1.4px"></div>
<div class="yl" style="left:-0.5px;top:639.2px">15</div>
<div class="tk" style="left:68.0px;top:706.6px;width:7px;height:1.4px"></div>
<div class="yl" style="left:-0.5px;top:696.1px">10</div>
<div class="tk" style="left:68.0px;top:763.4px;width:7px;height:1.4px"></div>
<div class="yl" style="left:2.5px;top:752.9px">5</div>
<div class="tk" style="left:100.1px;top:819.4px;width:1.4px;height:6px"></div>
<div class="xl" style="left:70.8px;top:831.9px">56</div>
<div class="tk" style="left:232.6px;top:819.4px;width:1.4px;height:6px"></div>
<div class="xl" style="left:203.3px;top:831.9px">57</div>
<div class="tk" style="left:365.0px;top:819.4px;width:1.4px;height:6px"></div>
<div class="xl" style="left:335.7px;top:831.9px">58</div>
<div class="tk" style="left:497.4px;top:819.4px;width:1.4px;height:6px"></div>
<div class="xl" style="left:468.1px;top:831.9px">59</div>
<div class="tk" style="left:629.9px;top:819.4px;width:1.4px;height:6px"></div>
<div class="xl" style="left:600.6px;top:831.9px">60</div>
<div class="tk" style="left:762.3px;top:819.4px;width:1.4px;height:6px"></div>
<div class="xl" style="left:733.0px;top:831.9px">61</div>
<div class="lab" style="left:-48.3px;top:691.5px;width:120px;height:30px;text-align:center;transform:rotate(-90deg) scaleY(0.86);font-stretch:normal;font-size:27px">f [kHz]</div>
<div class="lab" style="left:319.0px;top:866.0px;width:200px;text-align:center;font-size:27px">Time [ms]</div>
<svg class="fld" style="left:894.5px;top:120.0px" width="687.1" height="216.25" viewBox="0 0 687.1 216.25">
<defs><filter id="fR1" filterUnits="userSpaceOnUse" x="-40" y="-40" width="767.1" height="296.25" color-interpolation-filters="sRGB"><feGaussianBlur stdDeviation="4"/><feComponentTransfer><feFuncR type="table" tableValues="0.0196 0.1255 0.2627 0.5647 0.8196 0.9686 0.9922 0.9529 0.8392 0.6941 0.4039"/><feFuncG type="table" tableValues="0.1882 0.3961 0.5765 0.7686 0.8980 0.9647 0.8588 0.6431 0.3765 0.0941 0.0000"/><feFuncB type="table" tableValues="0.3804 0.6706 0.7647 0.8667 0.9412 0.9647 0.7804 0.5059 0.3020 0.1686 0.1216"/></feComponentTransfer></filter>
</defs>
<g filter="url(#fR1)"><rect x="-40" y="-40" width="767.1" height="296.25" fill="#242424"/>
<polygon points="24,-20 30,-20 30,18.4 27.0,22 24,18.4" fill="#525252" />
<polygon points="33,-20 39,-20 39,18.4 36.0,22 33,18.4" fill="#0f0f0f" />
<polygon points="42,-20 48,-20 48,18.4 45.0,22 42,18.4" fill="#525252" />
<polygon points="51,-20 57,-20 57,18.4 54.0,22 51,18.4" fill="#0f0f0f" />
<polygon points="60,-20 66,-20 66,18.4 63.0,22 60,18.4" fill="#525252" />
<polygon points="69,-20 75,-20 75,18.4 72.0,22 69,18.4" fill="#0f0f0f" />
<polygon points="78,-20 84,-20 84,18.4 81.0,22 78,18.4" fill="#525252" />
<polygon points="87,-20 93,-20 93,18.4 90.0,22 87,18.4" fill="#0f0f0f" />
<polygon points="96,-20 102,-20 102,18.4 99.0,22 96,18.4" fill="#525252" />
<polygon points="105,-20 111,-20 111,18.4 108.0,22 105,18.4" fill="#0f0f0f" />
<polygon points="3,-20 9,-20 9,116.4 6.0,120 3,116.4" fill="#4c4c4c" />
<polygon points="12,-20 18,-20 18,106.4 15.0,110 12,106.4" fill="#121212" />
<polygon points="20,-20 27,-20 27,120.8 23.5,125 20,120.8" fill="#4c4c4c" />
<polygon points="104,-20 121,-20 121,99.8 112.5,110 104,99.8" fill="#0f0f0f" />
<polygon points="121,-20 129,-20 129,75.2 125.0,80 121,75.2" fill="#404040" />
<polygon points="130,-20 148,-20 148,55.2 139.0,66 130,55.2" fill="#787878" />
<polygon points="150,-20 156,-20 156,96.4 153.0,100 150,96.4" fill="#525252" />
<polygon points="156,-20 164,-20 164,95.2 160.0,100 156,95.2" fill="#0f0f0f" />
<polygon points="164,-20 169,-20 169,87.0 166.5,90 164,87.0" fill="#404040" />
<polygon points="169,-20 180,-20 180,103.4 174.5,110 169,103.4" fill="#0d0d0d" />
<polygon points="181,-20 201,-20 201,96.0 191.0,108 181,96.0" fill="#787878" />
<ellipse cx="190" cy="88" rx="10" ry="18" fill="#808080" />
<polygon points="203,-20 215,-20 222,80 220,135 209,135 206,80" fill="#6b6b6b" />
<polygon points="221,-20 228,-20 228,115.8 224.5,120 221,115.8" fill="#0f0f0f" />
<polygon points="229,-20 240,-20 240,108.4 234.5,115 229,108.4" fill="#0f0f0f" />
<polygon points="240,-20 249,-20 249,104.6 244.5,110 240,104.6" fill="#4c4c4c" />
<polygon points="249,-20 260,-20 260,108.4 254.5,115 249,108.4" fill="#0f0f0f" />
<polygon points="260,-20 268,-20 268,105.2 264.0,110 260,105.2" fill="#4c4c4c" />
<polygon points="268,-20 279,-20 279,108.4 273.5,115 268,108.4" fill="#0f0f0f" />
<polygon points="280,-20 299,-20 299,163.6 289.5,175 280,163.6" fill="#787878" />
<ellipse cx="289" cy="110" rx="8" ry="16" fill="#8f8f8f" />
<polygon points="300,-20 308,-20 308,115.2 304.0,120 300,115.2" fill="#0f0f0f" />
<polygon points="309,-20 324,-20 324,101.0 316.5,110 309,101.0" fill="#595959" />
<polygon points="327,-20 351,-20 351,90.6 339.0,105 327,90.6" fill="#0f0f0f" />
<polygon points="352,-20 360,-20 360,95.2 356.0,100 352,95.2" fill="#4c4c4c" />
<polygon points="361,-20 376,-20 376,53.0 368.5,62 361,53.0" fill="#6b6b6b" />
<polygon points="376,-20 394,-20 394,89.2 385.0,100 376,89.2" fill="#0f0f0f" />
<polygon points="395,-20 404,-20 404,42.6 399.5,48 395,42.6" fill="#4c4c4c" />
<polygon points="397,40 410,40 422,120 404,120" fill="#6b6b6b" />
<polygon points="423,-20 442,-20 442,98.6 432.5,110 423,98.6" fill="#0d0d0d" />
<polygon points="445,-20 456,-20 456,103.4 450.5,110 445,103.4" fill="#4c4c4c" />
<polygon points="458,-20 467,-20 467,114.6 462.5,120 458,114.6" fill="#4c4c4c" />
<polygon points="468,-20 486,-20 486,104.2 477.0,115 468,104.2" fill="#0f0f0f" />
<polygon points="488,-20 500,-20 500,112.8 494.0,120 488,112.8" fill="#5e5e5e" />
<ellipse cx="501" cy="132" rx="13" ry="24" fill="#787878" />
<polygon points="500,-20 510,-20 510,94.0 505.0,100 500,94.0" fill="#0f0f0f" />
<polygon points="515,-20 525,-20 525,99.0 520.0,105 515,99.0" fill="#4c4c4c" />
<polygon points="525,-20 556,-20 556,91.4 540.5,110 525,91.4" fill="#121212" />
<polygon points="558,-20 574,-20 574,158.4 566.0,168 558,158.4" fill="#5c5c5c" />
<polygon points="575,-20 585,-20 585,114.0 580.0,120 575,114.0" fill="#0f0f0f" />
<polygon points="588,-20 597,-20 597,114.6 592.5,120 588,114.6" fill="#525252" />
<polygon points="598,-20 612,-20 612,111.6 605.0,120 598,111.6" fill="#0f0f0f" />
<polygon points="612,-20 620,-20 620,95.2 616.0,100 612,95.2" fill="#4c4c4c" />
<polygon points="636,-20 650,-20 650,11.6 643.0,20 636,11.6" fill="#787878" />
<polygon points="655,-20 670,-20 670,121.0 662.5,130 655,121.0" fill="#141414" />
<polygon points="683,-20 692,-20 692,124.6 687.5,130 683,124.6" fill="#121212" />
<ellipse cx="20" cy="120" rx="8" ry="15" fill="#4c4c4c" />
<ellipse cx="140" cy="180" rx="30" ry="10" fill="#4c4c4c" />
<ellipse cx="300" cy="190" rx="50" ry="6" fill="#4c4c4c" />
<ellipse cx="450" cy="185" rx="30" ry="8" fill="#595959" />
<ellipse cx="640" cy="185" rx="30" ry="8" fill="#595959" />
<ellipse cx="350" cy="145" rx="40" ry="30" fill="#121212" />
<polygon points="55,75 66,75 69,150 76,198 42,198 51,150" fill="#b2b2b2" />
<polygon points="129,62 143,62 146,150 153,198 119,198 126,150" fill="#b2b2b2" />
<polygon points="210,135 224,135 229,198 205,198" fill="#a8a8a8" />
<polygon points="489,149 505,149 512,198 482,198" fill="#b2b2b2" />
<polygon points="637,63 649,63 653,150 660,198 626,198 633,150" fill="#adadad" />
<ellipse cx="10" cy="91" rx="5" ry="6" fill="#080808" />
<ellipse cx="14" cy="144" rx="5" ry="6" fill="#080808" />
<ellipse cx="34" cy="135" rx="5" ry="6" fill="#080808" />
<ellipse cx="29" cy="166" rx="5" ry="6" fill="#080808" />
<ellipse cx="79" cy="84" rx="5" ry="6" fill="#080808" />
<ellipse cx="94" cy="120" rx="5" ry="6" fill="#080808" />
<ellipse cx="113" cy="123" rx="5" ry="6" fill="#080808" />
<ellipse cx="84" cy="154" rx="5" ry="6" fill="#080808" />
<ellipse cx="108" cy="149" rx="5" ry="6" fill="#080808" />
<ellipse cx="87" cy="178" rx="5" ry="6" fill="#080808" />
<ellipse cx="154" cy="101" rx="5" ry="6" fill="#080808" />
<ellipse cx="168" cy="115" rx="5" ry="6" fill="#080808" />
<ellipse cx="187" cy="125" rx="5" ry="6" fill="#080808" />
<ellipse cx="207" cy="120" rx="5" ry="6" fill="#080808" />
<ellipse cx="159" cy="151" rx="5" ry="6" fill="#080808" />
<ellipse cx="190" cy="156" rx="5" ry="6" fill="#080808" />
<ellipse cx="233" cy="123" rx="5" ry="6" fill="#080808" />
<ellipse cx="255" cy="125" rx="5" ry="6" fill="#080808" />
<ellipse cx="274" cy="123" rx="5" ry="6" fill="#080808" />
<ellipse cx="238" cy="156" rx="5" ry="6" fill="#080808" />
<ellipse cx="274" cy="163" rx="5" ry="6" fill="#080808" />
<ellipse cx="250" cy="178" rx="5" ry="6" fill="#080808" />
<ellipse cx="327" cy="125" rx="5" ry="6" fill="#080808" />
<ellipse cx="380" cy="130" rx="5" ry="6" fill="#080808" />
<ellipse cx="358" cy="139" rx="5" ry="6" fill="#080808" />
<ellipse cx="317" cy="163" rx="5" ry="6" fill="#080808" />
<ellipse cx="353" cy="166" rx="5" ry="6" fill="#080808" />
<ellipse cx="487" cy="120" rx="5" ry="6" fill="#080808" />
<ellipse cx="477" cy="137" rx="5" ry="6" fill="#080808" />
<ellipse cx="516" cy="130" rx="5" ry="6" fill="#080808" />
<ellipse cx="547" cy="120" rx="5" ry="6" fill="#080808" />
<ellipse cx="576" cy="103" rx="5" ry="6" fill="#080808" />
<ellipse cx="602" cy="120" rx="5" ry="6" fill="#080808" />
<ellipse cx="626" cy="130" rx="5" ry="6" fill="#080808" />
<ellipse cx="530" cy="168" rx="5" ry="6" fill="#080808" />
<ellipse cx="549" cy="156" rx="5" ry="6" fill="#080808" />
<ellipse cx="593" cy="163" rx="5" ry="6" fill="#080808" />
<ellipse cx="614" cy="159" rx="5" ry="6" fill="#080808" />
<ellipse cx="674" cy="120" rx="5" ry="6" fill="#080808" />
<ellipse cx="465" cy="173" rx="5" ry="6" fill="#080808" />
<ellipse cx="440" cy="125" rx="5" ry="6" fill="#080808" />
<ellipse cx="425" cy="160" rx="5" ry="6" fill="#080808" />
<ellipse cx="455" cy="150" rx="5" ry="6" fill="#080808" />
<ellipse cx="410" cy="140" rx="5" ry="6" fill="#080808" />
<ellipse cx="675" cy="160" rx="5" ry="6" fill="#080808" />
<ellipse cx="180" cy="178" rx="14" ry="4" fill="#0a0a0a" />
<ellipse cx="40" cy="105" rx="4" ry="5" fill="#0a0a0a" />
<ellipse cx="100" cy="100" rx="4" ry="5" fill="#0a0a0a" />
<ellipse cx="120" cy="165" rx="4" ry="5" fill="#0a0a0a" />
<ellipse cx="170" cy="140" rx="4" ry="5" fill="#0a0a0a" />
<ellipse cx="200" cy="100" rx="4" ry="5" fill="#0a0a0a" />
<ellipse cx="225" cy="150" rx="4" ry="5" fill="#0a0a0a" />
<ellipse cx="260" cy="100" rx="4" ry="5" fill="#0a0a0a" />
<ellipse cx="300" cy="140" rx="4" ry="5" fill="#0a0a0a" />
<ellipse cx="330" cy="100" rx="4" ry="5" fill="#0a0a0a" />
<ellipse cx="340" cy="180" rx="4" ry="5" fill="#0a0a0a" />
<ellipse cx="365" cy="105" rx="4" ry="5" fill="#0a0a0a" />
<ellipse cx="390" cy="160" rx="4" ry="5" fill="#0a0a0a" />
<ellipse cx="410" cy="100" rx="4" ry="5" fill="#0a0a0a" />
<ellipse cx="430" cy="180" rx="4" ry="5" fill="#0a0a0a" />
<ellipse cx="470" cy="100" rx="4" ry="5" fill="#0a0a0a" />
<ellipse cx="500" cy="170" rx="4" ry="5" fill="#0a0a0a" />
<ellipse cx="530" cy="100" rx="4" ry="5" fill="#0a0a0a" />
<ellipse cx="560" cy="130" rx="4" ry="5" fill="#0a0a0a" />
<ellipse cx="585" cy="100" rx="4" ry="5" fill="#0a0a0a" />
<ellipse cx="620" cy="100" rx="4" ry="5" fill="#0a0a0a" />
<ellipse cx="660" cy="110" rx="4" ry="5" fill="#0a0a0a" />
<ellipse cx="680" cy="150" rx="4" ry="5" fill="#0a0a0a" />
<ellipse cx="600" cy="175" rx="4" ry="5" fill="#0a0a0a" />
<rect x="-10" y="195" width="710" height="45" fill="#ffffff" />
<ellipse cx="68" cy="194" rx="16" ry="6" fill="#ffffff" />
<ellipse cx="142" cy="193" rx="16" ry="6" fill="#ffffff" />
<ellipse cx="219" cy="195" rx="14" ry="5" fill="#ffffff" />
<ellipse cx="293" cy="188" rx="20" ry="9" fill="#ffffff" />
<ellipse cx="365" cy="193" rx="16" ry="6" fill="#ffffff" />
<ellipse cx="495" cy="188" rx="14" ry="9" fill="#ffffff" />
<ellipse cx="570" cy="188" rx="17" ry="9" fill="#ffffff" />
<ellipse cx="655" cy="190" rx="26" ry="7" fill="#ffffff" />
<ellipse cx="15.5" cy="207" rx="15.5" ry="3.6" fill="#0d0d0d" />
<ellipse cx="96.0" cy="207" rx="24.0" ry="3.6" fill="#0d0d0d" />
<ellipse cx="177.5" cy="207" rx="14.5" ry="3.6" fill="#0d0d0d" />
<ellipse cx="247.5" cy="207" rx="21.5" ry="3.6" fill="#0d0d0d" />
<ellipse cx="328.0" cy="207" rx="23.0" ry="3.6" fill="#0d0d0d" />
<ellipse cx="414.5" cy="207" rx="20.5" ry="3.6" fill="#0d0d0d" />
<ellipse cx="467.5" cy="207" rx="9.5" ry="3.6" fill="#0d0d0d" />
<ellipse cx="537.5" cy="207" rx="21.5" ry="3.6" fill="#0d0d0d" />
<ellipse cx="605.5" cy="207" rx="20.5" ry="3.6" fill="#0d0d0d" />
</g></svg>
<div class="ax" style="left:893.8px;top:119.3px;width:688.5px;height:227.0px"></div>
<div class="tk" style="left:887.5px;top:119.3px;width:7px;height:1.4px"></div>
<div class="yl" style="left:819.0px;top:108.7px">20</div>
<div class="tk" style="left:887.5px;top:176.1px;width:7px;height:1.4px"></div>
<div class="yl" style="left:819.0px;top:165.5px">15</div>
<div class="tk" style="left:887.5px;top:232.9px;width:7px;height:1.4px"></div>
<div class="yl" style="left:819.0px;top:222.3px">10</div>
<div class="tk" style="left:887.5px;top:289.7px;width:7px;height:1.4px"></div>
<div class="yl" style="left:819.0px;top:279.1px">5</div>
<div class="tk" style="left:894.7px;top:345.6px;width:1.4px;height:6px"></div>
<div class="tk" style="left:980.4px;top:345.6px;width:1.4px;height:6px"></div>
<div class="tk" style="left:1066.2px;top:345.6px;width:1.4px;height:6px"></div>
<div class="tk" style="left:1152.0px;top:345.6px;width:1.4px;height:6px"></div>
<div class="tk" style="left:1237.8px;top:345.6px;width:1.4px;height:6px"></div>
<div class="tk" style="left:1323.6px;top:345.6px;width:1.4px;height:6px"></div>
<div class="tk" style="left:1409.3px;top:345.6px;width:1.4px;height:6px"></div>
<div class="tk" style="left:1495.1px;top:345.6px;width:1.4px;height:6px"></div>
<div class="tk" style="left:1580.9px;top:345.6px;width:1.4px;height:6px"></div>
<div class="lab" style="left:771.2px;top:217.8px;width:120px;height:30px;text-align:center;transform:rotate(-90deg) scaleY(0.86);font-stretch:normal;font-size:27px">f [kHz]</div>
<svg class="fld" style="left:894.5px;top:357.0px" width="687.1" height="216.25" viewBox="0 0 687.1 216.25">
<defs><filter id="fR2" filterUnits="userSpaceOnUse" x="-40" y="-40" width="767.1" height="296.25" color-interpolation-filters="sRGB"><feGaussianBlur stdDeviation="4.5"/><feComponentTransfer><feFuncR type="table" tableValues="0.0196 0.1255 0.2627 0.5647 0.8196 0.9686 0.9922 0.9529 0.8392 0.6941 0.4039"/><feFuncG type="table" tableValues="0.1882 0.3961 0.5765 0.7686 0.8980 0.9647 0.8588 0.6431 0.3765 0.0941 0.0000"/><feFuncB type="table" tableValues="0.3804 0.6706 0.7647 0.8667 0.9412 0.9647 0.7804 0.5059 0.3020 0.1686 0.1216"/></feComponentTransfer></filter>
<linearGradient id="g0" x1="0" y1="0" x2="0" y2="1"><stop offset="0" stop-color="#333333"/><stop offset="0.08" stop-color="#262626"/><stop offset="0.25" stop-color="#1c1c1c"/><stop offset="0.5" stop-color="#171717"/><stop offset="0.65" stop-color="#0f0f0f"/><stop offset="1" stop-color="#0a0a0a"/></linearGradient>
</defs>
<g filter="url(#fR2)"><rect x="-40" y="-40" width="767.1" height="296.25" fill="#1f1f1f"/>
<rect x="-20" y="-20" width="740" height="260" fill="#1f1f1f" />
<rect x="-20" y="18" width="740" height="78" fill="#757575" />
<ellipse cx="0" cy="98" rx="12" ry="14" fill="#757575" />
<ellipse cx="25" cy="98" rx="12" ry="14" fill="#757575" />
<ellipse cx="50" cy="98" rx="12" ry="14" fill="#757575" />
<ellipse cx="75" cy="98" rx="12" ry="14" fill="#757575" />
<ellipse cx="100" cy="98" rx="12" ry="14" fill="#757575" />
<ellipse cx="125" cy="98" rx="12" ry="14" fill="#757575" />
<ellipse cx="150" cy="98" rx="12" ry="14" fill="#757575" />
<ellipse cx="175" cy="98" rx="12" ry="14" fill="#757575" />
<ellipse cx="200" cy="98" rx="12" ry="14" fill="#757575" />
<ellipse cx="225" cy="98" rx="12" ry="14" fill="#757575" />
<ellipse cx="250" cy="98" rx="12" ry="14" fill="#757575" />
<ellipse cx="275" cy="98" rx="12" ry="14" fill="#757575" />
<ellipse cx="300" cy="98" rx="12" ry="14" fill="#757575" />
<ellipse cx="325" cy="98" rx="12" ry="14" fill="#757575" />
<ellipse cx="350" cy="98" rx="12" ry="14" fill="#757575" />
<ellipse cx="375" cy="98" rx="12" ry="14" fill="#757575" />
<ellipse cx="400" cy="98" rx="12" ry="14" fill="#757575" />
<ellipse cx="425" cy="98" rx="12" ry="14" fill="#757575" />
<ellipse cx="450" cy="98" rx="12" ry="14" fill="#757575" />
<ellipse cx="475" cy="98" rx="12" ry="14" fill="#757575" />
<ellipse cx="500" cy="98" rx="12" ry="14" fill="#757575" />
<ellipse cx="525" cy="98" rx="12" ry="14" fill="#757575" />
<ellipse cx="550" cy="98" rx="12" ry="14" fill="#757575" />
<ellipse cx="575" cy="98" rx="12" ry="14" fill="#757575" />
<ellipse cx="600" cy="98" rx="12" ry="14" fill="#757575" />
<ellipse cx="625" cy="98" rx="12" ry="14" fill="#757575" />
<ellipse cx="650" cy="98" rx="12" ry="14" fill="#757575" />
<ellipse cx="675" cy="98" rx="12" ry="14" fill="#757575" />
<rect x="-20" y="100" width="740" height="140" fill="url(#g0)"/>
<ellipse cx="0" cy="4" rx="4" ry="5" fill="#0f0f0f" />
<ellipse cx="9" cy="4" rx="4" ry="5" fill="#616161" />
<ellipse cx="18" cy="4" rx="4" ry="5" fill="#0f0f0f" />
<ellipse cx="27" cy="4" rx="4" ry="5" fill="#616161" />
<ellipse cx="36" cy="4" rx="4" ry="5" fill="#0f0f0f" />
<ellipse cx="45" cy="4" rx="4" ry="5" fill="#616161" />
<ellipse cx="54" cy="4" rx="4" ry="5" fill="#0f0f0f" />
<ellipse cx="63" cy="4" rx="4" ry="5" fill="#616161" />
<ellipse cx="72" cy="4" rx="4" ry="5" fill="#0f0f0f" />
<ellipse cx="81" cy="4" rx="4" ry="5" fill="#616161" />
<ellipse cx="90" cy="4" rx="4" ry="5" fill="#0f0f0f" />
<ellipse cx="99" cy="4" rx="4" ry="5" fill="#616161" />
<ellipse cx="108" cy="4" rx="4" ry="5" fill="#0f0f0f" />
<ellipse cx="117" cy="4" rx="4" ry="5" fill="#616161" />
<ellipse cx="126" cy="4" rx="4" ry="5" fill="#0f0f0f" />
<ellipse cx="135" cy="4" rx="4" ry="5" fill="#616161" />
<ellipse cx="144" cy="4" rx="4" ry="5" fill="#0f0f0f" />
<ellipse cx="153" cy="4" rx="4" ry="5" fill="#616161" />
<ellipse cx="162" cy="4" rx="4" ry="5" fill="#0f0f0f" />
<ellipse cx="171" cy="4" rx="4" ry="5" fill="#616161" />
<ellipse cx="180" cy="4" rx="4" ry="5" fill="#0f0f0f" />
<ellipse cx="189" cy="4" rx="4" ry="5" fill="#616161" />
<ellipse cx="198" cy="4" rx="4" ry="5" fill="#0f0f0f" />
<ellipse cx="207" cy="4" rx="4" ry="5" fill="#616161" />
<ellipse cx="216" cy="4" rx="4" ry="5" fill="#0f0f0f" />
<ellipse cx="225" cy="4" rx="4" ry="5" fill="#616161" />
<ellipse cx="234" cy="4" rx="4" ry="5" fill="#0f0f0f" />
<ellipse cx="243" cy="4" rx="4" ry="5" fill="#616161" />
<ellipse cx="252" cy="4" rx="4" ry="5" fill="#0f0f0f" />
<ellipse cx="261" cy="4" rx="4" ry="5" fill="#616161" />
<ellipse cx="270" cy="4" rx="4" ry="5" fill="#0f0f0f" />
<ellipse cx="279" cy="4" rx="4" ry="5" fill="#616161" />
<ellipse cx="288" cy="4" rx="4" ry="5" fill="#0f0f0f" />
<ellipse cx="297" cy="4" rx="4" ry="5" fill="#616161" />
<ellipse cx="306" cy="4" rx="4" ry="5" fill="#0f0f0f" />
<ellipse cx="315" cy="4" rx="4" ry="5" fill="#616161" />
<ellipse cx="324" cy="4" rx="4" ry="5" fill="#0f0f0f" />
<ellipse cx="333" cy="4" rx="4" ry="5" fill="#616161" />
<ellipse cx="342" cy="4" rx="4" ry="5" fill="#0f0f0f" />
<ellipse cx="351" cy="4" rx="4" ry="5" fill="#616161" />
<ellipse cx="360" cy="4" rx="4" ry="5" fill="#0f0f0f" />
<ellipse cx="369" cy="4" rx="4" ry="5" fill="#616161" />
<ellipse cx="378" cy="4" rx="4" ry="5" fill="#0f0f0f" />
<ellipse cx="387" cy="4" rx="4" ry="5" fill="#616161" />
<ellipse cx="396" cy="4" rx="4" ry="5" fill="#0f0f0f" />
<ellipse cx="405" cy="4" rx="4" ry="5" fill="#616161" />
<ellipse cx="414" cy="4" rx="4" ry="5" fill="#0f0f0f" />
<ellipse cx="423" cy="4" rx="4" ry="5" fill="#616161" />
<ellipse cx="432" cy="4" rx="4" ry="5" fill="#0f0f0f" />
<ellipse cx="441" cy="4" rx="4" ry="5" fill="#616161" />
<ellipse cx="450" cy="4" rx="4" ry="5" fill="#0f0f0f" />
<ellipse cx="459" cy="4" rx="4" ry="5" fill="#616161" />
<ellipse cx="468" cy="4" rx="4" ry="5" fill="#0f0f0f" />
<ellipse cx="477" cy="4" rx="4" ry="5" fill="#616161" />
<ellipse cx="486" cy="4" rx="4" ry="5" fill="#0f0f0f" />
<ellipse cx="495" cy="4" rx="4" ry="5" fill="#616161" />
<ellipse cx="504" cy="4" rx="4" ry="5" fill="#0f0f0f" />
<ellipse cx="513" cy="4" rx="4" ry="5" fill="#616161" />
<ellipse cx="522" cy="4" rx="4" ry="5" fill="#0f0f0f" />
<ellipse cx="531" cy="4" rx="4" ry="5" fill="#616161" />
<ellipse cx="540" cy="4" rx="4" ry="5" fill="#0f0f0f" />
<ellipse cx="549" cy="4" rx="4" ry="5" fill="#616161" />
<ellipse cx="558" cy="4" rx="4" ry="5" fill="#0f0f0f" />
<ellipse cx="567" cy="4" rx="4" ry="5" fill="#616161" />
<ellipse cx="576" cy="4" rx="4" ry="5" fill="#0f0f0f" />
<ellipse cx="585" cy="4" rx="4" ry="5" fill="#616161" />
<ellipse cx="594" cy="4" rx="4" ry="5" fill="#0f0f0f" />
<ellipse cx="603" cy="4" rx="4" ry="5" fill="#616161" />
<ellipse cx="612" cy="4" rx="4" ry="5" fill="#0f0f0f" />
<ellipse cx="621" cy="4" rx="4" ry="5" fill="#616161" />
<ellipse cx="630" cy="4" rx="4" ry="5" fill="#0f0f0f" />
<ellipse cx="639" cy="4" rx="4" ry="5" fill="#616161" />
<ellipse cx="648" cy="4" rx="4" ry="5" fill="#0f0f0f" />
<ellipse cx="657" cy="4" rx="4" ry="5" fill="#616161" />
<ellipse cx="666" cy="4" rx="4" ry="5" fill="#0f0f0f" />
<ellipse cx="675" cy="4" rx="4" ry="5" fill="#616161" />
<ellipse cx="684" cy="4" rx="4" ry="5" fill="#0f0f0f" />
<ellipse cx="693" cy="4" rx="4" ry="5" fill="#616161" />
<polygon points="21.549999999999997,-20 40.45,-20 38.56,79 34.78,98 31,104 27.22,98 23.439999999999998,79" fill="#080808" />
<polygon points="46.9,-20 63.1,-20 61.480000000000004,75 58.24,94 55,100 51.76,94 48.519999999999996,75" fill="#080808" />
<polygon points="70.9,-20 87.1,-20 85.48,71 82.24,90 79,96 75.76,90 72.52,71" fill="#080808" />
<polygon points="93.55,-20 112.45,-20 110.56,92 106.78,111 103,117 99.22,111 95.44,92" fill="#080808" />
<polygon points="116.9,-20 133.1,-20 131.48,87 128.24,106 125,112 121.76,106 118.52,87" fill="#080808" />
<polygon points="155.9,-20 172.1,-20 170.48,85 167.24,104 164,110 160.76,104 157.52,85" fill="#080808" />
<polygon points="177.9,-20 194.1,-20 192.48,92 189.24,111 186,117 182.76,111 179.52,92" fill="#080808" />
<polygon points="203.55,-20 222.45,-20 220.56,101 216.78,120 213,126 209.22,120 205.44,101" fill="#080808" />
<polygon points="223.25,-20 236.75,-20 235.4,95 232.7,114 230,120 227.3,114 224.6,95" fill="#080808" />
<polygon points="251.55,-20 270.45,-20 268.56,79 264.78,98 261,104 257.22,98 253.44,79" fill="#080808" />
<polygon points="271.25,-20 284.75,-20 283.4,67 280.7,86 278,92 275.3,86 272.6,67" fill="#080808" />
<polygon points="329.55,-20 348.45,-20 346.56,79 342.78,98 339,104 335.22,98 331.44,79" fill="#080808" />
<polygon points="352.45,-20 387.55,-20 384.04,92 377.02,111 370,117 362.98,111 355.96,92" fill="#080808" />
<polygon points="422.9,-20 439.1,-20 437.48,71 434.24,90 431,96 427.76,90 424.52,71" fill="#080808" />
<polygon points="442.25,-20 455.75,-20 454.4,79 451.7,98 449,104 446.3,98 443.6,79" fill="#080808" />
<polygon points="469.55,-20 488.45,-20 486.56,95 482.78,114 479,120 475.22,114 471.44,95" fill="#080808" />
<polygon points="504.55,-20 523.45,-20 521.56,87 517.78,106 514,112 510.22,106 506.44,87" fill="#080808" />
<polygon points="539.55,-20 558.45,-20 556.56,79 552.78,98 549,104 545.22,98 541.44,79" fill="#080808" />
<polygon points="573.2,-20 594.8,-20 592.64,85 588.32,104 584,110 579.68,104 575.36,85" fill="#080808" />
<polygon points="601.55,-20 620.45,-20 618.56,92 614.78,111 611,117 607.22,111 603.44,92" fill="#080808" />
<polygon points="631.55,-20 650.45,-20 648.56,87 644.78,106 641,112 637.22,106 633.44,87" fill="#080808" />
<polygon points="662.55,-20 681.45,-20 679.56,79 675.78,98 672,104 668.22,98 664.44,79" fill="#080808" />
<polygon points="293.25,-20 306.75,-20 305.4,-5 302.7,14 300,20 297.3,14 294.6,-5" fill="#080808" />
<polygon points="314.6,-20 325.4,-20 324.32,0 322.16,19 320,25 317.84,19 315.68,0" fill="#080808" />
<polygon points="349.25,-20 362.75,-20 361.4,35 358.7,54 356,60 353.3,54 350.6,35" fill="#080808" />
<polygon points="449.6,-20 460.4,-20 459.32,35 457.16,54 455,60 452.84,54 450.68,35" fill="#080808" />
<polygon points="484.6,-20 495.4,-20 494.32,15 492.16,34 490,40 487.84,34 485.68,15" fill="#080808" />
<polygon points="524.6,-20 535.4,-20 534.32,5 532.16,24 530,30 527.84,24 525.68,5" fill="#080808" />
<polygon points="558.25,-20 571.75,-20 570.4,35 567.7,54 565,60 562.3,54 559.6,35" fill="#080808" />
<polygon points="593.25,-20 606.75,-20 605.4,35 602.7,54 600,60 597.3,54 594.6,35" fill="#080808" />
<polygon points="618.25,-20 631.75,-20 630.4,25 627.7,44 625,50 622.3,44 619.6,25" fill="#080808" />
<polygon points="653.25,-20 666.75,-20 665.4,15 662.7,34 660,40 657.3,34 654.6,15" fill="#080808" />
<ellipse cx="16" cy="80" rx="10" ry="17" fill="#b2b2b2" />
<ellipse cx="66" cy="80" rx="12" ry="18" fill="#dedede" />
<ellipse cx="96" cy="83" rx="13" ry="20" fill="#e0e0e0" />
<ellipse cx="116" cy="82" rx="8" ry="16" fill="#999999" />
<polygon points="144,28 158,48 166,75 160,98 146,108 132,100 124,78 130,48" fill="#ffffff" />
<polygon points="163,58 182,52 202,58 210,80 206,100 186,106 168,104 160,80" fill="#ededed" />
<ellipse cx="250" cy="67" rx="8" ry="25" fill="#adadad" />
<polygon points="303,30 318,42 330,62 336,88 326,102 312,97 303,90 296,102 284,99 280,75 288,45" fill="#ffffff" />
<ellipse cx="340" cy="76" rx="8" ry="16" fill="#a8a8a8" />
<polygon points="361,-20 380,-20 380,113.6 370.5,125 361,113.6" fill="#0d0d0d" />
<ellipse cx="396" cy="75" rx="13" ry="38" fill="#737373" />
<ellipse cx="416" cy="70" rx="8" ry="22" fill="#adadad" />
<ellipse cx="440" cy="60" rx="8" ry="18" fill="#a1a1a1" />
<ellipse cx="465" cy="72" rx="8" ry="30" fill="#949494" />
<ellipse cx="505" cy="54" rx="10" ry="36" fill="#858585" />
<ellipse cx="535" cy="70" rx="10" ry="30" fill="#919191" />
<ellipse cx="672" cy="85" rx="14" ry="18" fill="#737373" />
<ellipse cx="29" cy="122" rx="5" ry="5" fill="#080808" />
<ellipse cx="96" cy="122" rx="5" ry="5" fill="#080808" />
<ellipse cx="120" cy="122" rx="5" ry="5" fill="#080808" />
<ellipse cx="187" cy="122" rx="5" ry="5" fill="#080808" />
<ellipse cx="207" cy="122" rx="5" ry="5" fill="#080808" />
<ellipse cx="48" cy="144" rx="5" ry="5" fill="#080808" />
<ellipse cx="72" cy="144" rx="5" ry="5" fill="#080808" />
<ellipse cx="149" cy="144" rx="5" ry="5" fill="#080808" />
<ellipse cx="125" cy="154" rx="5" ry="5" fill="#080808" />
<ellipse cx="224" cy="154" rx="5" ry="5" fill="#080808" />
<ellipse cx="17" cy="159" rx="5" ry="5" fill="#080808" />
<ellipse cx="231" cy="120" rx="5" ry="5" fill="#080808" />
<ellipse cx="255" cy="125" rx="5" ry="5" fill="#080808" />
<ellipse cx="274" cy="101" rx="5" ry="5" fill="#080808" />
<ellipse cx="274" cy="125" rx="5" ry="5" fill="#080808" />
<ellipse cx="308" cy="115" rx="5" ry="5" fill="#080808" />
<ellipse cx="346" cy="125" rx="5" ry="5" fill="#080808" />
<ellipse cx="365" cy="130" rx="5" ry="5" fill="#080808" />
<ellipse cx="394" cy="113" rx="5" ry="5" fill="#080808" />
<ellipse cx="399" cy="135" rx="5" ry="5" fill="#080808" />
<ellipse cx="250" cy="144" rx="5" ry="5" fill="#080808" />
<ellipse cx="298" cy="147" rx="5" ry="5" fill="#080808" />
<ellipse cx="334" cy="149" rx="5" ry="5" fill="#080808" />
<ellipse cx="351" cy="159" rx="5" ry="5" fill="#080808" />
<ellipse cx="442" cy="139" rx="5" ry="5" fill="#080808" />
<ellipse cx="264" cy="166" rx="5" ry="5" fill="#080808" />
<ellipse cx="293" cy="178" rx="5" ry="5" fill="#080808" />
<ellipse cx="392" cy="168" rx="5" ry="5" fill="#080808" />
<ellipse cx="463" cy="111" rx="5" ry="5" fill="#080808" />
<ellipse cx="499" cy="101" rx="5" ry="5" fill="#080808" />
<ellipse cx="520" cy="115" rx="5" ry="5" fill="#080808" />
<ellipse cx="542" cy="115" rx="5" ry="5" fill="#080808" />
<ellipse cx="564" cy="125" rx="5" ry="5" fill="#080808" />
<ellipse cx="590" cy="113" rx="5" ry="5" fill="#080808" />
<ellipse cx="609" cy="111" rx="5" ry="5" fill="#080808" />
<ellipse cx="629" cy="103" rx="5" ry="5" fill="#080808" />
<ellipse cx="650" cy="130" rx="5" ry="5" fill="#080808" />
<ellipse cx="504" cy="139" rx="5" ry="5" fill="#080808" />
<ellipse cx="484" cy="149" rx="5" ry="5" fill="#080808" />
<ellipse cx="537" cy="159" rx="5" ry="5" fill="#080808" />
<ellipse cx="581" cy="156" rx="5" ry="5" fill="#080808" />
<ellipse cx="614" cy="144" rx="5" ry="5" fill="#080808" />
<ellipse cx="470" cy="166" rx="5" ry="5" fill="#080808" />
<ellipse cx="60" cy="170" rx="5" ry="5" fill="#080808" />
<ellipse cx="150" cy="172" rx="5" ry="5" fill="#080808" />
<ellipse cx="210" cy="170" rx="5" ry="5" fill="#080808" />
<ellipse cx="330" cy="175" rx="5" ry="5" fill="#080808" />
<ellipse cx="420" cy="160" rx="5" ry="5" fill="#080808" />
<ellipse cx="560" cy="175" rx="5" ry="5" fill="#080808" />
<ellipse cx="620" cy="170" rx="5" ry="5" fill="#080808" />
<ellipse cx="680" cy="165" rx="5" ry="5" fill="#080808" />
<ellipse cx="394" cy="112" rx="10" ry="12" fill="#080808" />
<ellipse cx="662" cy="168" rx="14" ry="12" fill="#080808" />
</g></svg>
<div class="ax" style="left:893.8px;top:356.3px;width:688.5px;height:227.0px"></div>
<div class="tk" style="left:887.5px;top:356.3px;width:7px;height:1.4px"></div>
<div class="yl" style="left:819.0px;top:345.7px">20</div>
<div class="tk" style="left:887.5px;top:413.1px;width:7px;height:1.4px"></div>
<div class="yl" style="left:819.0px;top:402.5px">15</div>
<div class="tk" style="left:887.5px;top:469.9px;width:7px;height:1.4px"></div>
<div class="yl" style="left:819.0px;top:459.3px">10</div>
<div class="tk" style="left:887.5px;top:526.7px;width:7px;height:1.4px"></div>
<div class="yl" style="left:819.0px;top:516.1px">5</div>
<div class="tk" style="left:894.7px;top:582.6px;width:1.4px;height:6px"></div>
<div class="tk" style="left:980.4px;top:582.6px;width:1.4px;height:6px"></div>
<div class="tk" style="left:1066.2px;top:582.6px;width:1.4px;height:6px"></div>
<div class="tk" style="left:1152.0px;top:582.6px;width:1.4px;height:6px"></div>
<div class="tk" style="left:1237.8px;top:582.6px;width:1.4px;height:6px"></div>
<div class="tk" style="left:1323.6px;top:582.6px;width:1.4px;height:6px"></div>
<div class="tk" style="left:1409.3px;top:582.6px;width:1.4px;height:6px"></div>
<div class="tk" style="left:1495.1px;top:582.6px;width:1.4px;height:6px"></div>
<div class="tk" style="left:1580.9px;top:582.6px;width:1.4px;height:6px"></div>
<div class="lab" style="left:771.2px;top:454.8px;width:120px;height:30px;text-align:center;transform:rotate(-90deg) scaleY(0.86);font-stretch:normal;font-size:27px">f [kHz]</div>
<svg class="fld" style="left:894.5px;top:593.75px" width="687.1" height="216.25" viewBox="0 0 687.1 216.25">
<defs><filter id="fR3" filterUnits="userSpaceOnUse" x="-40" y="-40" width="767.1" height="296.25" color-interpolation-filters="sRGB"><feGaussianBlur stdDeviation="3.8"/><feComponentTransfer><feFuncR type="table" tableValues="0.0196 0.1255 0.2627 0.5647 0.8196 0.9686 0.9922 0.9529 0.8392 0.6941 0.4039"/><feFuncG type="table" tableValues="0.1882 0.3961 0.5765 0.7686 0.8980 0.9647 0.8588 0.6431 0.3765 0.0941 0.0000"/><feFuncB type="table" tableValues="0.3804 0.6706 0.7647 0.8667 0.9412 0.9647 0.7804 0.5059 0.3020 0.1686 0.1216"/></feComponentTransfer></filter>
</defs>
<g filter="url(#fR3)"><rect x="-40" y="-40" width="767.1" height="296.25" fill="#707070"/>
<polygon points="-3.0,-20 11.0,-20 11.0,111.6 4.0,120 -3.0,111.6" fill="#212121" />
<polygon points="18.5,30 25.5,30 25.5,95.8 22.0,100 18.5,95.8" fill="#262626" />
<polygon points="26.0,-20 40.0,-20 40.0,9.6 33.0,18 26.0,9.6" fill="#1f1f1f" />
<polygon points="42.0,-20 62.0,-20 62.0,6.0 52.0,18 42.0,6.0" fill="#262626" />
<polygon points="62.0,-20 74.0,-20 74.0,10.8 68.0,18 62.0,10.8" fill="#141414" />
<polygon points="90.0,-20 102.0,-20 102.0,117.8 96.0,125 90.0,117.8" fill="#141414" />
<polygon points="113.0,-20 129.0,-20 129.0,110.4 121.0,120 113.0,110.4" fill="#141414" />
<polygon points="138.0,-20 144.0,-20 144.0,96.4 141.0,100 138.0,96.4" fill="#262626" />
<polygon points="147.0,29 155.0,29 155.0,85.2 151.0,90 147.0,85.2" fill="#1f1f1f" />
<polygon points="160.5,40 169.5,40 169.5,84.6 165.0,90 160.5,84.6" fill="#1f1f1f" />
<polygon points="181.0,-20 201.0,-20 201.0,103.0 191.0,115 181.0,103.0" fill="#141414" />
<polygon points="213.0,-20 221.0,-20 221.0,130.2 217.0,135 213.0,130.2" fill="#1a1a1a" />
<polygon points="80,70 86,70 86,136.4 83.0,140 80,136.4" fill="#8c8c8c" />
<polygon points="103,-20 112,-20 112,114.6 107.5,120 103,114.6" fill="#9e9e9e" />
<polygon points="172,57 184,57 184,115.8 178.0,123 172,115.8" fill="#adadad" />
<polygon points="27,72 97,72 97,160 85,175 40,175 27,160" fill="#262626" />
<ellipse cx="72" cy="100" rx="8" ry="25" fill="#595959" />
<ellipse cx="49" cy="115" rx="6" ry="7" fill="#050505" />
<ellipse cx="41" cy="149" rx="6" ry="7" fill="#050505" />
<ellipse cx="75" cy="148" rx="6" ry="7" fill="#050505" />
<ellipse cx="91" cy="152" rx="6" ry="7" fill="#050505" />
<ellipse cx="59" cy="164" rx="6" ry="7" fill="#050505" />
<polygon points="12,93 27,93 30,140 37,170 0,172 8,140" fill="#d9d9d9" />
<ellipse cx="6" cy="149" rx="6" ry="7" fill="#050505" />
<ellipse cx="4" cy="100" rx="5" ry="10" fill="#1a1a1a" />
<polygon points="105,123 128,123 130,150 124,170 118,180 103,190 70,195 58,190 72,178 100,165 102,145" fill="#ffffff" />
<polygon points="130,-20 144,-20 144,114.6 137.0,123 130,114.6" fill="#999999" />
<ellipse cx="140" cy="152" rx="5" ry="6" fill="#050505" />
<ellipse cx="153" cy="129" rx="5" ry="6" fill="#050505" />
<ellipse cx="174" cy="124" rx="5" ry="6" fill="#050505" />
<ellipse cx="137" cy="171" rx="5" ry="6" fill="#050505" />
<ellipse cx="146" cy="182" rx="5" ry="6" fill="#050505" />
<ellipse cx="180" cy="177" rx="5" ry="6" fill="#050505" />
<ellipse cx="194" cy="145" rx="5" ry="6" fill="#050505" />
<ellipse cx="206" cy="155" rx="5" ry="6" fill="#050505" />
<ellipse cx="215" cy="130" rx="5" ry="6" fill="#050505" />
<ellipse cx="170" cy="156" rx="11" ry="12" fill="#b2b2b2" />
<polygon points="214,142 235,135 235,190 205,190" fill="#e0e0e0" />
<rect x="-10" y="186" width="250" height="54" fill="#ffffff" />
<ellipse cx="40" cy="198" rx="18" ry="3.5" fill="#595959" />
<ellipse cx="114" cy="193" rx="18" ry="3.5" fill="#595959" />
<rect x="-10" y="204" width="206" height="7" fill="#999999" />
<ellipse cx="14" cy="179" rx="5" ry="4" fill="#1a1a1a" />
<ellipse cx="51" cy="182" rx="8" ry="4" fill="#1a1a1a" />
<rect x="-10" y="174" width="72" height="12" fill="#737373" />
<polygon points="226,-20 236,-20 236,125.0 231.0,131 226,125.0" fill="#adadad" />
<polygon points="226,128 250,128 256,160 252,180 226,182" fill="#ffffff" />
<polygon points="238.0,-20 254.0,-20 253.2,51.5 250.48,115 246,123 241.52,115 238.8,51.5" fill="#1a1a1a" />
<polygon points="255.0,-20 271.0,-20 270.2,67.5 267.48,147 263,155 258.52,147 255.8,67.5" fill="#141414" />
<ellipse cx="260" cy="149" rx="6" ry="7" fill="#050505" />
<polygon points="292.0,-20 332.0,-20 330.0,65.0 323.2,142 312,150 300.8,142 294.0,65.0" fill="#0f0f0f" />
<ellipse cx="298" cy="145" rx="6" ry="7" fill="#050505" />
<ellipse cx="310" cy="95" rx="10" ry="16" fill="#050505" />
<polygon points="341.0,-20 361.0,-20 360.0,46.0 356.6,104 351,112 345.4,104 342.0,46.0" fill="#1a1a1a" />
<polygon points="376.0,-20 390.0,-20 389.3,40.0 386.92,92 383,100 379.08,92 376.7,40.0" fill="#1a1a1a" />
<polygon points="418.0,-20 444.0,-20 442.7,40.0 438.28,92 431,100 423.72,92 419.3,40.0" fill="#121212" />
<ellipse cx="395" cy="127" rx="6" ry="7" fill="#050505" />
<ellipse cx="414" cy="142" rx="6" ry="7" fill="#050505" />
<ellipse cx="406" cy="160" rx="6" ry="7" fill="#050505" />
<polygon points="400.0,60 408.0,60 407.6,115.0 406.24,162 404,170 401.76,162 400.4,115.0" fill="#1a1a1a" />
<polygon points="393,-20 401,-20 401,14.2 397.0,19 393,14.2" fill="#a6a6a6" />
<ellipse cx="436" cy="127" rx="9" ry="21" fill="#ffffff" />
<polygon points="440,146 452,148 456,174 444,174" fill="#c7c7c7" />
<polygon points="366,174 380,168 400,170 456,168 456,186 380,187 366,184" fill="#c2c2c2" />
<ellipse cx="384" cy="178" rx="12" ry="5" fill="#e0e0e0" />
<rect x="328" y="108" width="53" height="38" fill="#787878" />
<ellipse cx="348" cy="156" rx="26" ry="11" fill="#0f0f0f" />
<ellipse cx="270" cy="174" rx="5" ry="5" fill="#050505" />
<ellipse cx="308" cy="174" rx="5" ry="5" fill="#050505" />
<ellipse cx="304" cy="192" rx="5" ry="5" fill="#050505" />
<ellipse cx="361" cy="189" rx="5" ry="5" fill="#050505" />
<ellipse cx="406" cy="191" rx="5" ry="5" fill="#050505" />
<ellipse cx="431" cy="167" rx="5" ry="5" fill="#050505" />
<polygon points="226,176 270,182 270,192 226,192" fill="#b2b2b2" />
<rect x="226" y="198" width="234" height="42" fill="#ffffff" />
<rect x="226" y="196" width="234" height="4" fill="#cccccc" />
<ellipse cx="266" cy="208" rx="22" ry="3" fill="#666666" />
<ellipse cx="355" cy="208" rx="33" ry="3" fill="#666666" />
<ellipse cx="432" cy="204" rx="5" ry="3" fill="#050505" />
<rect x="417" y="201" width="43" height="6" fill="#262626" />
<polygon points="499,38 505,38 500,80 494,123 476,123 486,80" fill="#bfbfbf" />
<ellipse cx="488" cy="102" rx="9" ry="16" fill="#ffffff" />
<polygon points="445.0,-20 473.0,-20 471.6,55.0 466.84,122 459,130 451.16,122 446.4,55.0" fill="#141414" />
<ellipse cx="461" cy="108" rx="6" ry="7" fill="#050505" />
<polygon points="514.0,-20 532.0,-20 531.1,55.0 528.04,122 523,130 517.96,122 514.9,55.0" fill="#121212" />
<ellipse cx="502" cy="115" rx="6" ry="7" fill="#050505" />
<ellipse cx="517" cy="98" rx="6" ry="7" fill="#050505" />
<polygon points="532,-20 542,-20 542,134.0 537.0,140 532,134.0" fill="#949494" />
<polygon points="544.0,-20 572.0,-20 570.6,57.5 565.84,127 558,135 550.16,127 545.4,57.5" fill="#121212" />
<ellipse cx="554" cy="118" rx="6" ry="7" fill="#050505" />
<polygon points="575,-20 591,-20 591,110.4 583.0,120 575,110.4" fill="#8c8c8c" />
<polygon points="593.0,-20 613.0,-20 612.0,52.5 608.6,117 603,125 597.4,117 594.0,52.5" fill="#1a1a1a" />
<ellipse cx="583" cy="108" rx="6" ry="7" fill="#050505" />
<ellipse cx="614" cy="115" rx="6" ry="7" fill="#050505" />
<polygon points="631.0,60 661.0,60 661.0,147.0 646.0,165 631.0,147.0" fill="#1a1a1a" />
<ellipse cx="641" cy="130" rx="6" ry="7" fill="#050505" />
<ellipse cx="632" cy="155" rx="6" ry="7" fill="#050505" />
<polygon points="624,60 632,60 632,105.2 628.0,110 624,105.2" fill="#9e9e9e" />
<polygon points="660,60 670,60 670,104.0 665.0,110 660,104.0" fill="#9e9e9e" />
<polygon points="674.0,-20 684.0,-20 684.0,94.0 679.0,100 674.0,94.0" fill="#1f1f1f" />
<polygon points="676,100 692,100 692,155 676,150" fill="#f2f2f2" />
<ellipse cx="473" cy="142" rx="5" ry="6" fill="#050505" />
<ellipse cx="515" cy="146" rx="5" ry="6" fill="#050505" />
<ellipse cx="545" cy="142" rx="5" ry="6" fill="#050505" />
<ellipse cx="567" cy="152" rx="5" ry="6" fill="#050505" />
<ellipse cx="596" cy="142" rx="5" ry="6" fill="#050505" />
<ellipse cx="620" cy="173" rx="5" ry="6" fill="#050505" />
<ellipse cx="673" cy="149" rx="5" ry="6" fill="#050505" />
<ellipse cx="483" cy="150" rx="13" ry="14" fill="#141414" />
<ellipse cx="585" cy="172" rx="20" ry="11" fill="#ffffff" />
<polygon points="649,152 692,150 692,189 649,189" fill="#b8b8b8" />
<ellipse cx="667" cy="180" rx="7" ry="4" fill="#1a1a1a" />
<polygon points="458,149 470,149 470,180 458,180" fill="#adadad" />
<ellipse cx="520" cy="180" rx="38" ry="5" fill="#141414" />
<polygon points="458,200 500,195 561,193 561,203 500,207 458,209" fill="#d9d9d9" />
<polygon points="579,189 692,189 692,202 579,202" fill="#1f1f1f" />
<ellipse cx="600" cy="195" rx="15" ry="5" fill="#0a0a0a" />
<rect x="561" y="210" width="59" height="12" fill="#1f1f1f" />
<rect x="627" y="208" width="65" height="14" fill="#ebebeb" />
<rect x="458" y="189" width="29" height="6" fill="#141414" />
<rect x="458" y="211" width="62" height="11" fill="#1f1f1f" />
</g></svg>
<div class="ax" style="left:893.8px;top:593.0px;width:688.5px;height:227.0px"></div>
<div class="tk" style="left:887.5px;top:593.0px;width:7px;height:1.4px"></div>
<div class="yl" style="left:819.0px;top:582.5px">20</div>
<div class="tk" style="left:887.5px;top:649.8px;width:7px;height:1.4px"></div>
<div class="yl" style="left:819.0px;top:639.2px">15</div>
<div class="tk" style="left:887.5px;top:706.6px;width:7px;height:1.4px"></div>
<div class="yl" style="left:819.0px;top:696.1px">10</div>
<div class="tk" style="left:887.5px;top:763.4px;width:7px;height:1.4px"></div>
<div class="yl" style="left:819.0px;top:752.9px">5</div>
<div class="tk" style="left:894.7px;top:819.4px;width:1.4px;height:6px"></div>
<div class="xl" style="left:865.4px;top:833.1px">69</div>
<div class="tk" style="left:980.4px;top:819.4px;width:1.4px;height:6px"></div>
<div class="xl" style="left:951.1px;top:833.1px">70</div>
<div class="tk" style="left:1066.2px;top:819.4px;width:1.4px;height:6px"></div>
<div class="xl" style="left:1036.9px;top:833.1px">71</div>
<div class="tk" style="left:1152.0px;top:819.4px;width:1.4px;height:6px"></div>
<div class="xl" style="left:1122.7px;top:833.1px">72</div>
<div class="tk" style="left:1237.8px;top:819.4px;width:1.4px;height:6px"></div>
<div class="xl" style="left:1208.5px;top:833.1px">73</div>
<div class="tk" style="left:1323.6px;top:819.4px;width:1.4px;height:6px"></div>
<div class="xl" style="left:1294.3px;top:833.1px">74</div>
<div class="tk" style="left:1409.3px;top:819.4px;width:1.4px;height:6px"></div>
<div class="xl" style="left:1380.0px;top:833.1px">75</div>
<div class="tk" style="left:1495.1px;top:819.4px;width:1.4px;height:6px"></div>
<div class="xl" style="left:1465.8px;top:833.1px">76</div>
<div class="tk" style="left:1580.9px;top:819.4px;width:1.4px;height:6px"></div>
<div class="xl" style="left:1551.6px;top:833.1px">77</div>
<div class="lab" style="left:771.2px;top:691.5px;width:120px;height:30px;text-align:center;transform:rotate(-90deg) scaleY(0.86);font-stretch:normal;font-size:27px">f [kHz]</div>
<div class="lab" style="left:1138.0px;top:867.5px;width:200px;text-align:center;font-size:27px">Time [ms]</div>
<div class="box" style="left:102.7px;top:137.4px;width:81.1px;height:54.8px"></div>
<div class="box" style="left:687.9px;top:128.4px;width:65.2px;height:55.3px"></div>
<div class="box" style="left:80px;top:365.5px;width:131.0px;height:54.0px"></div>
<div class="box" style="left:688.2px;top:368.1px;width:64.6px;height:54.3px"></div>
<div class="box" style="left:102.8px;top:609.7px;width:79.3px;height:55.4px"></div>
<div class="box" style="left:688.2px;top:603.9px;width:64.6px;height:54.2px"></div>
<div class="box" style="left:919.7px;top:140.1px;width:80.7px;height:55.4px"></div>
<div class="box" style="left:1511px;top:128.1px;width:65.5px;height:55.5px"></div>
<div class="box" style="left:897.2px;top:368.3px;width:130.8px;height:53.8px"></div>
<div class="box" style="left:1511.3px;top:368.1px;width:65.1px;height:54.8px"></div>
<div class="box" style="left:919.9px;top:611.4px;width:79.4px;height:54.5px"></div>
<div class="box" style="left:1511.7px;top:603.9px;width:64.7px;height:54.0px"></div>
<div class="bt" style="left:115.12px;top:149.94px;font-family:'Liberation Sans',sans-serif;font-weight:bold;font-size:31.71px;transform:scaleX(0.87);transform-origin:0 0">SXR</div>
<div class="bt" style="left:701.4px;top:137.94px;font-family:'Liberation Sans',sans-serif;font-weight:bold;font-size:33.58px;transform:scaleX(0.95);transform-origin:0 0">(1)</div>
<div class="bt" style="left:91.72px;top:376.99px;font-family:'Liberation Sans',sans-serif;font-weight:bold;font-size:33.07px;transform:scaleX(0.998);transform-origin:0 0">Mirnov</div>
<div class="bt" style="left:701.63px;top:379.34px;font-family:'Liberation Sans',sans-serif;font-weight:bold;font-size:32.63px;transform:scaleX(0.964);transform-origin:0 0">(2)</div>
<div class="bt" style="left:120.6px;top:619.37px;font-family:'Liberation Serif',serif;font-weight:bold;font-style:italic;font-size:36.15px;transform:scaleX(0.885);transform-origin:0 0">H</div>
<div class="bt" style="left:147.27px;top:633.6px;font-family:'Liberation Serif',serif;font-weight:bold;font-style:italic;font-size:28.0px;transform:scaleX(1.039);transform-origin:0 0">&alpha;</div>
<div class="bt" style="left:701.63px;top:614.74px;font-family:'Liberation Sans',sans-serif;font-weight:bold;font-size:32.63px;transform:scaleX(0.964);transform-origin:0 0">(3)</div>
<div class="bt" style="left:932.13px;top:151.24px;font-family:'Liberation Sans',sans-serif;font-weight:bold;font-size:31.71px;transform:scaleX(0.867);transform-origin:0 0">SXR</div>
<div class="bt" style="left:1523.61px;top:137.95px;font-family:'Liberation Sans',sans-serif;font-weight:bold;font-size:33.47px;transform:scaleX(0.951);transform-origin:0 0">(1)</div>
<div class="bt" style="left:908.73px;top:379.93px;font-family:'Liberation Sans',sans-serif;font-weight:bold;font-size:32.67px;transform:scaleX(1.008);transform-origin:0 0">Mirnov</div>
<div class="bt" style="left:1523.4px;top:379.34px;font-family:'Liberation Sans',sans-serif;font-weight:bold;font-size:32.63px;transform:scaleX(0.978);transform-origin:0 0">(2)</div>
<div class="bt" style="left:938.1px;top:621.21px;font-family:'Liberation Serif',serif;font-weight:bold;font-style:italic;font-size:35.38px;transform:scaleX(0.88);transform-origin:0 0">H</div>
<div class="bt" style="left:964.52px;top:635.99px;font-family:'Liberation Serif',serif;font-weight:bold;font-style:italic;font-size:27.16px;transform:scaleX(1.004);transform-origin:0 0">&alpha;</div>
<div class="bt" style="left:1523.4px;top:614.29px;font-family:'Liberation Sans',sans-serif;font-weight:bold;font-size:33.05px;transform:scaleX(0.965);transform-origin:0 0">(3)</div>
</body></html>
